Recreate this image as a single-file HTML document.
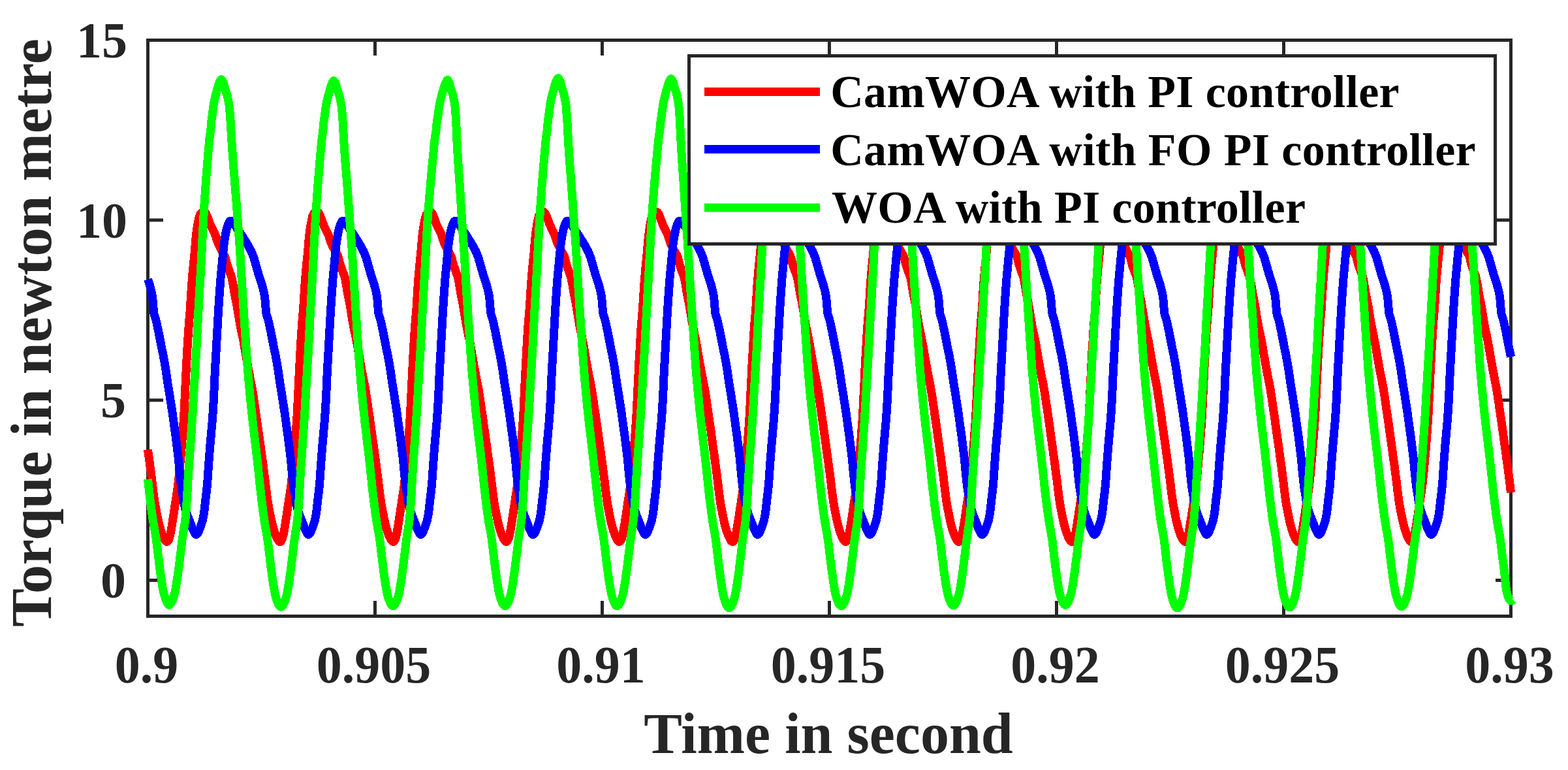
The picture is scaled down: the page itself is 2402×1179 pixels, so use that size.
<!DOCTYPE html>
<html><head><meta charset="utf-8"><title>Torque plot</title>
<style>html,body{margin:0;padding:0;background:#fff;overflow:hidden}svg{display:block}</style>
</head><body>
<svg width="2402" height="1179" viewBox="0 0 2402 1179">
<rect width="2402" height="1179" fill="#fff"/>
<rect x="226.5" y="61.5" width="2088.0" height="882.0" fill="none" stroke="#262626" stroke-width="5"/>
<path d="M226.5 59V85M226.5 946V920M574.5 59V85M574.5 946V920M922.5 59V85M922.5 946V920M1270.5 59V85M1270.5 946V920M1618.5 59V85M1618.5 946V920M1966.5 59V85M1966.5 946V920M2314.5 59V85M2314.5 946V920M224 888.4H250M2317 888.4H2291M224 612.8H250M2317 612.8H2291M224 337.1H250M2317 337.1H2291M224 61.5H250M2317 61.5H2291" stroke="#262626" stroke-width="5" fill="none"/>
<g><path d="M226.5,688.5L227.2,693.6 228.0,699.5 228.8,705.2 229.6,711.0 230.4,717.1 231.2,723.3 232.0,729.5 232.8,735.5 233.5,741.0 234.1,746.5 234.7,751.8 235.4,757.0 236.0,761.4 236.6,765.8 237.2,770.0 237.9,774.0 238.5,777.4 239.1,780.6 239.7,783.8 240.4,787.0 241.0,790.1 241.6,793.2 242.3,796.3 243.0,799.4 243.8,802.6 244.6,805.8 245.5,809.0 246.4,812.0 247.3,814.7 248.2,817.3 249.2,819.8 250.2,822.0 250.9,823.6 251.6,825.1 252.4,826.4 253.2,827.5 253.8,828.2 254.5,828.9 255.2,829.4 255.9,829.5 256.6,829.2 257.2,828.5 257.8,827.5 258.4,826.5 259.1,824.8 259.8,822.7 260.3,820.4 260.9,818.0 261.6,814.8 262.2,811.3 262.8,807.7 263.4,804.0 264.0,800.1 264.6,796.2 265.2,792.2 265.9,788.0 266.6,783.2 267.4,778.2 268.1,773.2 268.9,768.0 269.8,762.4 270.7,756.8 271.6,751.0 272.4,745.0 273.2,738.0 274.0,730.8 274.7,723.5 275.4,716.0 276.1,708.1 276.9,700.1 277.6,691.9 278.3,683.3 279.1,672.7 280.0,661.7 280.8,650.4 281.6,639.2 282.2,628.2 282.7,617.2 283.3,606.1 283.8,595.1 284.3,584.2 284.8,573.3 285.4,562.3 286.0,551.0 286.7,537.8 287.5,523.9 288.4,510.4 289.2,498.4 289.7,491.3 290.3,484.9 290.9,478.7 291.4,472.0 291.9,463.4 292.5,454.4 293.0,445.3 293.6,436.7 294.1,429.7 294.6,423.1 295.2,416.6 295.8,410.2 296.3,404.6 296.9,399.2 297.4,393.8 298.0,388.2 298.6,381.2 299.2,373.8 299.8,366.6 300.5,360.0 301.0,355.6 301.6,351.5 302.2,347.7 302.8,344.2 303.2,341.9 303.6,339.8 304.0,337.9 304.4,336.0 304.7,334.4 305.0,333.0 305.4,331.5 305.9,330.2 306.4,329.0 307.0,327.9 307.7,326.9 308.4,326.0 309.1,325.3 309.8,324.7 310.6,324.2 311.4,324.0 312.1,324.1 312.9,324.4 313.7,324.9 314.4,325.5 315.1,326.4 315.8,327.6 316.4,328.9 317.0,330.2 317.7,331.9 318.5,333.8 319.2,335.6 319.9,337.5 320.5,339.2 321.1,340.9 321.7,342.6 322.4,344.3 323.1,345.8 323.8,347.3 324.6,348.9 325.4,350.5 326.5,352.7 327.6,355.0 328.8,357.5 329.9,360.0 330.9,362.9 331.8,365.9 332.8,369.0 333.9,372.0 335.3,375.1 336.8,378.2 338.4,381.2 339.9,384.0 341.1,386.1 342.2,388.0 343.4,389.9 344.4,392.0 345.4,395.0 346.2,398.4 347.0,401.8 347.9,405.0 348.7,407.6 349.6,410.1 350.5,412.5 351.4,415.0 352.3,417.5 353.2,419.9 354.1,422.4 354.9,425.0 355.6,428.1 356.2,431.4 356.8,434.7 357.4,438.0 357.9,441.0 358.4,443.9 358.8,446.9 359.4,450.0 360.1,453.6 360.8,457.2 361.6,461.0 362.5,465.3 363.8,472.8 365.1,481.4 366.6,490.2 368.0,498.4 369.2,504.6 370.5,510.5 371.7,516.2 372.9,522.0 373.9,527.7 374.9,533.5 375.9,539.2 376.9,545.0 378.0,551.2 379.1,557.4 380.2,563.7 381.4,570.0 382.6,576.1 383.8,582.1 385.0,588.3 386.3,595.1 387.9,605.2 389.6,616.3 391.2,627.8 392.9,639.2 394.6,651.4 396.4,664.0 398.1,676.2 399.6,687.0 400.5,693.6 401.3,699.5 402.1,705.2 402.9,711.0 403.7,717.1 404.5,723.3 405.3,729.5 406.1,735.5 406.8,741.0 407.4,746.5 408.0,751.8 408.7,757.0 409.3,761.4 409.9,765.8 410.5,770.0 411.2,774.0 411.8,777.4 412.4,780.6 413.0,783.8 413.7,787.0 414.3,790.1 414.9,793.2 415.6,796.3 416.3,799.4 417.1,802.6 417.9,805.8 418.8,809.0 419.7,812.0 420.6,814.7 421.5,817.3 422.5,819.8 423.5,822.0 424.2,823.6 424.9,825.1 425.7,826.4 426.5,827.5 427.1,828.2 427.8,828.9 428.5,829.4 429.2,829.5 429.8,829.2 430.5,828.5 431.1,827.5 431.7,826.5 432.4,824.8 433.0,822.7 433.6,820.4 434.2,818.0 434.9,814.8 435.5,811.3 436.1,807.7 436.7,804.0 437.3,800.1 437.9,796.2 438.5,792.2 439.2,788.0 439.9,783.2 440.6,778.2 441.4,773.2 442.2,768.0 443.0,762.4 444.0,756.8 444.8,751.0 445.7,745.0 446.5,738.0 447.2,730.8 448.0,723.5 448.7,716.0 449.4,708.1 450.1,700.1 450.9,691.9 451.6,683.3 452.4,672.7 453.3,661.7 454.1,650.4 454.9,639.2 455.5,628.2 456.0,617.2 456.5,606.1 457.1,595.1 457.6,584.2 458.1,573.3 458.7,562.3 459.3,551.0 460.0,537.8 460.8,523.9 461.7,510.4 462.5,498.4 463.0,491.3 463.6,484.9 464.1,478.7 464.7,472.0 465.2,463.4 465.8,454.4 466.3,445.3 466.9,436.7 467.4,429.7 467.9,423.1 468.5,416.6 469.1,410.2 469.6,404.6 470.2,399.2 470.7,393.8 471.3,388.2 471.9,381.2 472.5,373.8 473.1,366.6 473.8,360.0 474.3,355.6 474.9,351.5 475.5,347.7 476.1,344.2 476.5,341.9 476.9,339.8 477.3,337.9 477.7,336.0 478.0,334.4 478.3,333.0 478.7,331.5 479.2,330.2 479.7,329.0 480.3,327.9 480.9,326.9 481.7,326.0 482.4,325.3 483.1,324.7 483.9,324.2 484.7,324.0 485.4,324.1 486.2,324.4 487.0,324.9 487.7,325.5 488.4,326.4 489.1,327.6 489.7,328.9 490.3,330.2 491.0,331.9 491.8,333.8 492.5,335.6 493.2,337.5 493.8,339.2 494.4,340.9 495.0,342.6 495.7,344.3 496.4,345.8 497.1,347.3 497.9,348.9 498.7,350.5 499.8,352.7 500.9,355.0 502.1,357.5 503.2,360.0 504.2,362.9 505.1,365.9 506.1,369.0 507.2,372.0 508.6,375.1 510.1,378.2 511.7,381.2 513.2,384.0 514.4,386.1 515.5,388.0 516.7,389.9 517.7,392.0 518.7,395.0 519.5,398.4 520.3,401.8 521.2,405.0 522.0,407.6 522.9,410.1 523.8,412.5 524.7,415.0 525.6,417.5 526.5,419.9 527.4,422.4 528.2,425.0 528.9,428.1 529.5,431.4 530.1,434.7 530.7,438.0 531.2,441.0 531.7,443.9 532.1,446.9 532.7,450.0 533.4,453.6 534.1,457.2 534.9,461.0 535.8,465.3 537.1,472.8 538.4,481.4 539.8,490.2 541.3,498.4 542.5,504.6 543.8,510.5 545.0,516.2 546.2,522.0 547.2,527.7 548.2,533.5 549.2,539.2 550.2,545.0 551.3,551.2 552.4,557.4 553.5,563.7 554.7,570.0 555.9,576.1 557.1,582.1 558.3,588.3 559.6,595.1 561.2,605.2 562.9,616.3 564.5,627.8 566.2,639.2 567.9,651.4 569.7,664.0 571.4,676.2 572.9,687.0 573.8,693.6 574.6,699.5 575.4,705.2 576.2,711.0 577.0,717.1 577.8,723.3 578.6,729.5 579.4,735.5 580.0,741.0 580.7,746.5 581.3,751.8 582.0,757.0 582.6,761.4 583.2,765.8 583.8,770.0 584.5,774.0 585.1,777.4 585.7,780.6 586.3,783.8 587.0,787.0 587.6,790.1 588.2,793.2 588.9,796.3 589.6,799.4 590.3,802.6 591.2,805.8 592.0,809.0 593.0,812.0 593.9,814.7 594.8,817.3 595.8,819.8 596.8,822.0 597.5,823.6 598.2,825.1 599.0,826.4 599.8,827.5 600.4,828.2 601.1,828.9 601.8,829.4 602.5,829.5 603.1,829.2 603.8,828.5 604.4,827.5 605.0,826.5 605.7,824.8 606.3,822.7 606.9,820.4 607.5,818.0 608.1,814.8 608.8,811.3 609.4,807.7 610.0,804.0 610.6,800.1 611.2,796.2 611.8,792.2 612.5,788.0 613.2,783.2 613.9,778.2 614.7,773.2 615.5,768.0 616.3,762.4 617.2,756.8 618.1,751.0 619.0,745.0 619.8,738.0 620.5,730.8 621.3,723.5 622.0,716.0 622.7,708.1 623.4,700.1 624.1,691.9 624.9,683.3 625.7,672.7 626.6,661.7 627.4,650.4 628.2,639.2 628.8,628.2 629.3,617.2 629.8,606.1 630.4,595.1 630.9,584.2 631.4,573.3 632.0,562.3 632.6,551.0 633.3,537.8 634.1,523.9 634.9,510.4 635.8,498.4 636.3,491.3 636.9,484.9 637.4,478.7 638.0,472.0 638.5,463.4 639.1,454.4 639.6,445.3 640.2,436.7 640.7,429.7 641.2,423.1 641.8,416.6 642.4,410.2 642.9,404.6 643.4,399.2 644.0,393.8 644.6,388.2 645.2,381.2 645.8,373.8 646.4,366.6 647.1,360.0 647.6,355.6 648.2,351.5 648.8,347.7 649.4,344.2 649.8,341.9 650.2,339.8 650.5,337.9 651.0,336.0 651.3,334.4 651.6,333.0 652.0,331.5 652.5,330.2 653.0,329.0 653.6,327.9 654.2,326.9 655.0,326.0 655.7,325.3 656.4,324.7 657.2,324.2 658.0,324.0 658.7,324.1 659.5,324.4 660.3,324.9 661.0,325.5 661.7,326.4 662.4,327.6 663.0,328.9 663.6,330.2 664.3,331.9 665.0,333.8 665.8,335.6 666.5,337.5 667.1,339.2 667.7,340.9 668.3,342.6 669.0,344.3 669.7,345.8 670.4,347.3 671.2,348.9 672.0,350.5 673.0,352.7 674.2,355.0 675.4,357.5 676.5,360.0 677.5,362.9 678.4,365.9 679.4,369.0 680.5,372.0 681.8,375.1 683.4,378.2 685.0,381.2 686.5,384.0 687.6,386.1 688.8,388.0 689.9,389.9 691.0,392.0 692.0,395.0 692.8,398.4 693.6,401.8 694.5,405.0 695.3,407.6 696.2,410.1 697.1,412.5 698.0,415.0 698.9,417.5 699.8,419.9 700.7,422.4 701.5,425.0 702.2,428.1 702.8,431.4 703.4,434.7 704.0,438.0 704.5,441.0 704.9,443.9 705.4,446.9 706.0,450.0 706.7,453.6 707.4,457.2 708.2,461.0 709.1,465.3 710.3,472.8 711.7,481.4 713.1,490.2 714.6,498.4 715.8,504.6 717.0,510.5 718.3,516.2 719.5,522.0 720.5,527.7 721.5,533.5 722.5,539.2 723.5,545.0 724.6,551.2 725.7,557.4 726.8,563.7 728.0,570.0 729.2,576.1 730.4,582.1 731.6,588.3 732.9,595.1 734.5,605.2 736.2,616.3 737.8,627.8 739.5,639.2 741.2,651.4 743.0,664.0 744.7,676.2 746.2,687.0 747.1,693.6 747.9,699.5 748.7,705.2 749.5,711.0 750.3,717.1 751.1,723.3 751.9,729.5 752.7,735.5 753.3,741.0 754.0,746.5 754.6,751.8 755.3,757.0 755.9,761.4 756.5,765.8 757.1,770.0 757.8,774.0 758.4,777.4 759.0,780.6 759.6,783.8 760.3,787.0 760.9,790.1 761.5,793.2 762.2,796.3 762.9,799.4 763.6,802.6 764.5,805.8 765.3,809.0 766.3,812.0 767.2,814.7 768.1,817.3 769.1,819.8 770.1,822.0 770.8,823.6 771.5,825.1 772.3,826.4 773.1,827.5 773.7,828.2 774.4,828.9 775.1,829.4 775.8,829.5 776.4,829.2 777.1,828.5 777.7,827.5 778.2,826.5 779.0,824.8 779.6,822.7 780.2,820.4 780.8,818.0 781.4,814.8 782.1,811.3 782.7,807.7 783.2,804.0 783.9,800.1 784.5,796.2 785.1,792.2 785.8,788.0 786.5,783.2 787.2,778.2 788.0,773.2 788.8,768.0 789.6,762.4 790.5,756.8 791.4,751.0 792.2,745.0 793.1,738.0 793.8,730.8 794.5,723.5 795.2,716.0 796.0,708.1 796.7,700.1 797.4,691.9 798.2,683.3 799.0,672.7 799.9,661.7 800.7,650.4 801.5,639.2 802.1,628.2 802.6,617.2 803.1,606.1 803.6,595.1 804.2,584.2 804.7,573.3 805.3,562.3 805.9,551.0 806.6,537.8 807.4,523.9 808.2,510.4 809.0,498.4 809.6,491.3 810.2,484.9 810.7,478.7 811.2,472.0 811.8,463.4 812.4,454.4 812.9,445.3 813.5,436.7 814.0,429.7 814.5,423.1 815.1,416.6 815.7,410.2 816.2,404.6 816.7,399.2 817.3,393.8 817.9,388.2 818.5,381.2 819.1,373.8 819.7,366.6 820.4,360.0 820.9,355.6 821.5,351.5 822.1,347.7 822.7,344.2 823.0,341.9 823.4,339.8 823.8,337.9 824.2,336.0 824.6,334.4 824.9,333.0 825.3,331.5 825.8,330.2 826.3,329.0 826.9,327.9 827.5,326.9 828.2,326.0 828.9,325.3 829.7,324.7 830.5,324.2 831.2,324.0 832.0,324.1 832.8,324.4 833.6,324.9 834.2,325.5 835.0,326.4 835.6,327.6 836.2,328.9 836.9,330.2 837.6,331.9 838.3,333.8 839.1,335.6 839.8,337.5 840.4,339.2 841.0,340.9 841.6,342.6 842.2,344.3 842.9,345.8 843.7,347.3 844.4,348.9 845.2,350.5 846.3,352.7 847.5,355.0 848.7,357.5 849.8,360.0 850.8,362.9 851.7,365.9 852.6,369.0 853.8,372.0 855.1,375.1 856.7,378.2 858.2,381.2 859.8,384.0 860.9,386.1 862.1,388.0 863.2,389.9 864.2,392.0 865.3,395.0 866.1,398.4 866.9,401.8 867.8,405.0 868.6,407.6 869.5,410.1 870.4,412.5 871.2,415.0 872.2,417.5 873.1,419.9 874.0,422.4 874.8,425.0 875.5,428.1 876.1,431.4 876.7,434.7 877.2,438.0 877.8,441.0 878.2,443.9 878.7,446.9 879.2,450.0 880.0,453.6 880.7,457.2 881.5,461.0 882.4,465.3 883.6,472.8 885.0,481.4 886.4,490.2 887.9,498.4 889.1,504.6 890.3,510.5 891.6,516.2 892.8,522.0 893.8,527.7 894.8,533.5 895.7,539.2 896.8,545.0 897.8,551.2 899.0,557.4 900.1,563.7 901.2,570.0 902.4,576.1 903.7,582.1 904.9,588.3 906.1,595.1 907.8,605.2 909.5,616.3 911.1,627.8 912.8,639.2 914.5,651.4 916.3,664.0 917.9,676.2 919.5,687.0 920.4,693.6 921.2,699.5 922.0,705.2 922.8,711.0 923.6,717.1 924.4,723.3 925.2,729.5 926.0,735.5 926.6,741.0 927.3,746.5 927.9,751.8 928.5,757.0 929.2,761.4 929.8,765.8 930.4,770.0 931.0,774.0 931.7,777.4 932.3,780.6 932.9,783.8 933.5,787.0 934.2,790.1 934.8,793.2 935.4,796.3 936.1,799.4 936.9,802.6 937.7,805.8 938.6,809.0 939.5,812.0 940.4,814.7 941.4,817.3 942.4,819.8 943.3,822.0 944.1,823.6 944.8,825.1 945.5,826.4 946.4,827.5 947.0,828.2 947.7,828.9 948.4,829.4 949.0,829.5 949.7,829.2 950.4,828.5 951.0,827.5 951.5,826.5 952.3,824.8 952.9,822.7 953.5,820.4 954.0,818.0 954.7,814.8 955.3,811.3 955.9,807.7 956.5,804.0 957.2,800.1 957.8,796.2 958.4,792.2 959.0,788.0 959.8,783.2 960.5,778.2 961.3,773.2 962.0,768.0 962.9,762.4 963.8,756.8 964.7,751.0 965.5,745.0 966.4,738.0 967.1,730.8 967.8,723.5 968.5,716.0 969.3,708.1 970.0,700.1 970.7,691.9 971.4,683.3 972.3,672.7 973.2,661.7 974.0,650.4 974.7,639.2 975.4,628.2 975.9,617.2 976.4,606.1 976.9,595.1 977.5,584.2 978.0,573.3 978.5,562.3 979.1,551.0 979.9,537.8 980.7,523.9 981.5,510.4 982.3,498.4 982.9,491.3 983.5,484.9 984.0,478.7 984.5,472.0 985.1,463.4 985.6,454.4 986.2,445.3 986.7,436.7 987.3,429.7 987.8,423.1 988.4,416.6 988.9,410.2 989.5,404.6 990.0,399.2 990.6,393.8 991.1,388.2 991.7,381.2 992.3,373.8 993.0,366.6 993.6,360.0 994.2,355.6 994.8,351.5 995.4,347.7 995.9,344.2 996.3,341.9 996.7,339.8 997.1,337.9 997.5,336.0 997.9,334.4 998.2,333.0 998.6,331.5 999.0,330.2 999.6,329.0 1000.2,327.9 1000.8,326.9 1001.5,326.0 1002.2,325.3 1003.0,324.7 1003.8,324.2 1004.5,324.0 1005.3,324.1 1006.1,324.4 1006.8,324.9 1007.5,325.5 1008.3,326.4 1008.9,327.6 1009.5,328.9 1010.1,330.2 1010.9,331.9 1011.6,333.8 1012.3,335.6 1013.0,337.5 1013.7,339.2 1014.3,340.9 1014.9,342.6 1015.5,344.3 1016.2,345.8 1017.0,347.3 1017.7,348.9 1018.5,350.5 1019.6,352.7 1020.8,355.0 1022.0,357.5 1023.0,360.0 1024.1,362.9 1025.0,365.9 1025.9,369.0 1027.0,372.0 1028.4,375.1 1030.0,378.2 1031.5,381.2 1033.0,384.0 1034.2,386.1 1035.4,388.0 1036.5,389.9 1037.5,392.0 1038.6,395.0 1039.4,398.4 1040.2,401.8 1041.0,405.0 1041.9,407.6 1042.8,410.1 1043.7,412.5 1044.5,415.0 1045.4,417.5 1046.4,419.9 1047.2,422.4 1048.0,425.0 1048.8,428.1 1049.4,431.4 1050.0,434.7 1050.5,438.0 1051.1,441.0 1051.5,443.9 1052.0,446.9 1052.5,450.0 1053.2,453.6 1054.0,457.2 1054.8,461.0 1055.6,465.3 1056.9,472.8 1058.3,481.4 1059.7,490.2 1061.1,498.4 1062.4,504.6 1063.6,510.5 1064.9,516.2 1066.0,522.0 1067.1,527.7 1068.1,533.5 1069.0,539.2 1070.0,545.0 1071.1,551.2 1072.2,557.4 1073.4,563.7 1074.5,570.0 1075.7,576.1 1077.0,582.1 1078.2,588.3 1079.4,595.1 1081.1,605.2 1082.7,616.3 1084.4,627.8 1086.0,639.2 1087.8,651.4 1089.6,664.0 1091.2,676.2 1092.7,687.0 1093.7,693.6 1094.5,699.5 1095.3,705.2 1096.0,711.0 1096.9,717.1 1097.7,723.3 1098.5,729.5 1099.2,735.5 1099.9,741.0 1100.6,746.5 1101.2,751.8 1101.8,757.0 1102.4,761.4 1103.1,765.8 1103.7,770.0 1104.3,774.0 1104.9,777.4 1105.6,780.6 1106.2,783.8 1106.8,787.0 1107.5,790.1 1108.1,793.2 1108.7,796.3 1109.4,799.4 1110.2,802.6 1111.0,805.8 1111.9,809.0 1112.8,812.0 1113.7,814.7 1114.7,817.3 1115.7,819.8 1116.6,822.0 1117.4,823.6 1118.1,825.1 1118.8,826.4 1119.6,827.5 1120.3,828.2 1121.0,828.9 1121.7,829.4 1122.3,829.5 1123.0,829.2 1123.6,828.5 1124.3,827.5 1124.8,826.5 1125.6,824.8 1126.2,822.7 1126.8,820.4 1127.3,818.0 1128.0,814.8 1128.6,811.3 1129.2,807.7 1129.8,804.0 1130.5,800.1 1131.1,796.2 1131.7,792.2 1132.3,788.0 1133.1,783.2 1133.8,778.2 1134.6,773.2 1135.3,768.0 1136.2,762.4 1137.1,756.8 1138.0,751.0 1138.8,745.0 1139.7,738.0 1140.4,730.8 1141.1,723.5 1141.8,716.0 1142.6,708.1 1143.3,700.1 1144.0,691.9 1144.7,683.3 1145.6,672.7 1146.5,661.7 1147.3,650.4 1148.0,639.2 1148.7,628.2 1149.2,617.2 1149.7,606.1 1150.2,595.1 1150.8,584.2 1151.3,573.3 1151.8,562.3 1152.4,551.0 1153.2,537.8 1154.0,523.9 1154.8,510.4 1155.6,498.4 1156.2,491.3 1156.8,484.9 1157.3,478.7 1157.8,472.0 1158.4,463.4 1158.9,454.4 1159.5,445.3 1160.0,436.7 1160.6,429.7 1161.1,423.1 1161.7,416.6 1162.2,410.2 1162.8,404.6 1163.3,399.2 1163.9,393.8 1164.4,388.2 1165.0,381.2 1165.6,373.8 1166.3,366.6 1166.9,360.0 1167.5,355.6 1168.1,351.5 1168.7,347.7 1169.2,344.2 1169.6,341.9 1170.0,339.8 1170.4,337.9 1170.8,336.0 1171.2,334.4 1171.5,333.0 1171.9,331.5 1172.3,330.2 1172.9,329.0 1173.4,327.9 1174.1,326.9 1174.8,326.0 1175.5,325.3 1176.3,324.7 1177.1,324.2 1177.8,324.0 1178.6,324.1 1179.4,324.4 1180.1,324.9 1180.8,325.5 1181.6,326.4 1182.2,327.6 1182.8,328.9 1183.4,330.2 1184.2,331.9 1184.9,333.8 1185.6,335.6 1186.3,337.5 1187.0,339.2 1187.6,340.9 1188.2,342.6 1188.8,344.3 1189.5,345.8 1190.3,347.3 1191.0,348.9 1191.8,350.5 1192.9,352.7 1194.1,355.0 1195.2,357.5 1196.3,360.0 1197.4,362.9 1198.3,365.9 1199.2,369.0 1200.3,372.0 1201.7,375.1 1203.2,378.2 1204.8,381.2 1206.3,384.0 1207.5,386.1 1208.7,388.0 1209.8,389.9 1210.8,392.0 1211.8,395.0 1212.7,398.4 1213.5,401.8 1214.3,405.0 1215.2,407.6 1216.1,410.1 1216.9,412.5 1217.8,415.0 1218.7,417.5 1219.7,419.9 1220.5,422.4 1221.3,425.0 1222.1,428.1 1222.7,431.4 1223.3,434.7 1223.8,438.0 1224.3,441.0 1224.8,443.9 1225.3,446.9 1225.8,450.0 1226.5,453.6 1227.3,457.2 1228.1,461.0 1228.9,465.3 1230.2,472.8 1231.6,481.4 1233.0,490.2 1234.4,498.4 1235.7,504.6 1236.9,510.5 1238.2,516.2 1239.3,522.0 1240.4,527.7 1241.4,533.5 1242.3,539.2 1243.3,545.0 1244.4,551.2 1245.5,557.4 1246.7,563.7 1247.8,570.0 1249.0,576.1 1250.3,582.1 1251.5,588.3 1252.7,595.1 1254.4,605.2 1256.0,616.3 1257.7,627.8 1259.3,639.2 1261.1,651.4 1262.8,664.0 1264.5,676.2 1266.0,687.0 1266.9,693.6 1267.8,699.5 1268.5,705.2 1269.3,711.0 1270.1,717.1 1271.0,723.3 1271.8,729.5 1272.5,735.5 1273.2,741.0 1273.8,746.5 1274.5,751.8 1275.1,757.0 1275.7,761.4 1276.3,765.8 1277.0,770.0 1277.6,774.0 1278.2,777.4 1278.9,780.6 1279.5,783.8 1280.1,787.0 1280.8,790.1 1281.4,793.2 1282.0,796.3 1282.7,799.4 1283.5,802.6 1284.3,805.8 1285.2,809.0 1286.1,812.0 1287.0,814.7 1288.0,817.3 1289.0,819.8 1289.9,822.0 1290.7,823.6 1291.4,825.1 1292.1,826.4 1292.9,827.5 1293.6,828.2 1294.3,828.9 1295.0,829.4 1295.6,829.5 1296.3,829.2 1296.9,828.5 1297.6,827.5 1298.1,826.5 1298.9,824.8 1299.5,822.7 1300.1,820.4 1300.6,818.0 1301.3,814.8 1301.9,811.3 1302.5,807.7 1303.1,804.0 1303.8,800.1 1304.4,796.2 1305.0,792.2 1305.6,788.0 1306.3,783.2 1307.1,778.2 1307.8,773.2 1308.6,768.0 1309.5,762.4 1310.4,756.8 1311.3,751.0 1312.1,745.0 1312.9,738.0 1313.7,730.8 1314.4,723.5 1315.1,716.0 1315.9,708.1 1316.6,700.1 1317.3,691.9 1318.0,683.3 1318.9,672.7 1319.7,661.7 1320.6,650.4 1321.3,639.2 1321.9,628.2 1322.5,617.2 1323.0,606.1 1323.5,595.1 1324.1,584.2 1324.6,573.3 1325.1,562.3 1325.7,551.0 1326.5,537.8 1327.3,523.9 1328.1,510.4 1328.9,498.4 1329.5,491.3 1330.0,484.9 1330.6,478.7 1331.1,472.0 1331.7,463.4 1332.2,454.4 1332.8,445.3 1333.3,436.7 1333.8,429.7 1334.4,423.1 1334.9,416.6 1335.5,410.2 1336.1,404.6 1336.6,399.2 1337.2,393.8 1337.7,388.2 1338.3,381.2 1338.9,373.8 1339.5,366.6 1340.2,360.0 1340.8,355.6 1341.4,351.5 1341.9,347.7 1342.5,344.2 1342.9,341.9 1343.3,339.8 1343.7,337.9 1344.1,336.0 1344.5,334.4 1344.8,333.0 1345.1,331.5 1345.6,330.2 1346.1,329.0 1346.7,327.9 1347.4,326.9 1348.1,326.0 1348.8,325.3 1349.6,324.7 1350.3,324.2 1351.1,324.0 1351.9,324.1 1352.7,324.4 1353.4,324.9 1354.1,325.5 1354.9,326.4 1355.5,327.6 1356.1,328.9 1356.7,330.2 1357.5,331.9 1358.2,333.8 1358.9,335.6 1359.6,337.5 1360.3,339.2 1360.9,340.9 1361.5,342.6 1362.1,344.3 1362.8,345.8 1363.5,347.3 1364.3,348.9 1365.1,350.5 1366.2,352.7 1367.4,355.0 1368.5,357.5 1369.6,360.0 1370.6,362.9 1371.6,365.9 1372.5,369.0 1373.6,372.0 1375.0,375.1 1376.5,378.2 1378.1,381.2 1379.6,384.0 1380.8,386.1 1382.0,388.0 1383.1,389.9 1384.1,392.0 1385.1,395.0 1386.0,398.4 1386.8,401.8 1387.6,405.0 1388.5,407.6 1389.3,410.1 1390.2,412.5 1391.1,415.0 1392.0,417.5 1392.9,419.9 1393.8,422.4 1394.6,425.0 1395.4,428.1 1396.0,431.4 1396.6,434.7 1397.1,438.0 1397.6,441.0 1398.1,443.9 1398.6,446.9 1399.1,450.0 1399.8,453.6 1400.6,457.2 1401.4,461.0 1402.2,465.3 1403.5,472.8 1404.9,481.4 1406.3,490.2 1407.7,498.4 1408.9,504.6 1410.2,510.5 1411.4,516.2 1412.6,522.0 1413.7,527.7 1414.7,533.5 1415.6,539.2 1416.6,545.0 1417.7,551.2 1418.8,557.4 1420.0,563.7 1421.1,570.0 1422.3,576.1 1423.5,582.1 1424.8,588.3 1426.0,595.1 1427.7,605.2 1429.3,616.3 1431.0,627.8 1432.6,639.2 1434.4,651.4 1436.1,664.0 1437.8,676.2 1439.3,687.0 1440.2,693.6 1441.1,699.5 1441.8,705.2 1442.6,711.0 1443.4,717.1 1444.3,723.3 1445.1,729.5 1445.8,735.5 1446.5,741.0 1447.1,746.5 1447.8,751.8 1448.4,757.0 1449.0,761.4 1449.6,765.8 1450.3,770.0 1450.9,774.0 1451.5,777.4 1452.1,780.6 1452.8,783.8 1453.4,787.0 1454.0,790.1 1454.7,793.2 1455.3,796.3 1456.0,799.4 1456.8,802.6 1457.6,805.8 1458.5,809.0 1459.4,812.0 1460.3,814.7 1461.3,817.3 1462.2,819.8 1463.2,822.0 1463.9,823.6 1464.7,825.1 1465.4,826.4 1466.2,827.5 1466.9,828.2 1467.6,828.9 1468.3,829.4 1468.9,829.5 1469.6,829.2 1470.2,828.5 1470.8,827.5 1471.4,826.5 1472.2,824.8 1472.8,822.7 1473.4,820.4 1473.9,818.0 1474.6,814.8 1475.2,811.3 1475.8,807.7 1476.4,804.0 1477.0,800.1 1477.7,796.2 1478.3,792.2 1478.9,788.0 1479.6,783.2 1480.4,778.2 1481.1,773.2 1481.9,768.0 1482.8,762.4 1483.7,756.8 1484.6,751.0 1485.4,745.0 1486.2,738.0 1487.0,730.8 1487.7,723.5 1488.4,716.0 1489.2,708.1 1489.9,700.1 1490.6,691.9 1491.3,683.3 1492.2,672.7 1493.0,661.7 1493.9,650.4 1494.6,639.2 1495.2,628.2 1495.8,617.2 1496.3,606.1 1496.8,595.1 1497.3,584.2 1497.9,573.3 1498.4,562.3 1499.0,551.0 1499.8,537.8 1500.6,523.9 1501.4,510.4 1502.2,498.4 1502.8,491.3 1503.3,484.9 1503.9,478.7 1504.4,472.0 1505.0,463.4 1505.5,454.4 1506.0,445.3 1506.6,436.7 1507.1,429.7 1507.7,423.1 1508.2,416.6 1508.8,410.2 1509.3,404.6 1509.9,399.2 1510.5,393.8 1511.0,388.2 1511.6,381.2 1512.2,373.8 1512.8,366.6 1513.5,360.0 1514.1,355.6 1514.6,351.5 1515.2,347.7 1515.8,344.2 1516.2,341.9 1516.6,339.8 1517.0,337.9 1517.4,336.0 1517.7,334.4 1518.1,333.0 1518.4,331.5 1518.9,330.2 1519.4,329.0 1520.0,327.9 1520.7,326.9 1521.4,326.0 1522.1,325.3 1522.9,324.7 1523.6,324.2 1524.4,324.0 1525.2,324.1 1526.0,324.4 1526.7,324.9 1527.4,325.5 1528.2,326.4 1528.8,327.6 1529.4,328.9 1530.0,330.2 1530.8,331.9 1531.5,333.8 1532.2,335.6 1532.9,337.5 1533.5,339.2 1534.1,340.9 1534.8,342.6 1535.4,344.3 1536.1,345.8 1536.8,347.3 1537.6,348.9 1538.4,350.5 1539.5,352.7 1540.7,355.0 1541.8,357.5 1542.9,360.0 1543.9,362.9 1544.9,365.9 1545.8,369.0 1546.9,372.0 1548.3,375.1 1549.8,378.2 1551.4,381.2 1552.9,384.0 1554.1,386.1 1555.3,388.0 1556.4,389.9 1557.4,392.0 1558.4,395.0 1559.3,398.4 1560.1,401.8 1560.9,405.0 1561.8,407.6 1562.6,410.1 1563.5,412.5 1564.4,415.0 1565.3,417.5 1566.2,419.9 1567.1,422.4 1567.9,425.0 1568.6,428.1 1569.3,431.4 1569.8,434.7 1570.4,438.0 1570.9,441.0 1571.4,443.9 1571.9,446.9 1572.4,450.0 1573.1,453.6 1573.9,457.2 1574.7,461.0 1575.5,465.3 1576.8,472.8 1578.2,481.4 1579.6,490.2 1581.0,498.4 1582.2,504.6 1583.5,510.5 1584.7,516.2 1585.9,522.0 1587.0,527.7 1587.9,533.5 1588.9,539.2 1589.9,545.0 1591.0,551.2 1592.1,557.4 1593.3,563.7 1594.4,570.0 1595.6,576.1 1596.8,582.1 1598.1,588.3 1599.3,595.1 1601.0,605.2 1602.6,616.3 1604.3,627.8 1605.9,639.2 1607.7,651.4 1609.4,664.0 1611.1,676.2 1612.6,687.0 1613.5,693.6 1614.3,699.5 1615.1,705.2 1615.9,711.0 1616.7,717.1 1617.5,723.3 1618.3,729.5 1619.1,735.5 1619.8,741.0 1620.4,746.5 1621.1,751.8 1621.7,757.0 1622.3,761.4 1622.9,765.8 1623.6,770.0 1624.2,774.0 1624.8,777.4 1625.4,780.6 1626.1,783.8 1626.7,787.0 1627.3,790.1 1628.0,793.2 1628.6,796.3 1629.3,799.4 1630.1,802.6 1630.9,805.8 1631.8,809.0 1632.7,812.0 1633.6,814.7 1634.6,817.3 1635.5,819.8 1636.5,822.0 1637.2,823.6 1638.0,825.1 1638.7,826.4 1639.5,827.5 1640.2,828.2 1640.9,828.9 1641.5,829.4 1642.2,829.5 1642.9,829.2 1643.5,828.5 1644.1,827.5 1644.7,826.5 1645.4,824.8 1646.1,822.7 1646.6,820.4 1647.2,818.0 1647.9,814.8 1648.5,811.3 1649.1,807.7 1649.7,804.0 1650.3,800.1 1650.9,796.2 1651.6,792.2 1652.2,788.0 1652.9,783.2 1653.7,778.2 1654.4,773.2 1655.2,768.0 1656.1,762.4 1657.0,756.8 1657.9,751.0 1658.7,745.0 1659.5,738.0 1660.3,730.8 1661.0,723.5 1661.7,716.0 1662.4,708.1 1663.2,700.1 1663.9,691.9 1664.6,683.3 1665.5,672.7 1666.3,661.7 1667.2,650.4 1667.9,639.2 1668.5,628.2 1669.1,617.2 1669.6,606.1 1670.1,595.1 1670.6,584.2 1671.2,573.3 1671.7,562.3 1672.3,551.0 1673.0,537.8 1673.9,523.9 1674.7,510.4 1675.5,498.4 1676.1,491.3 1676.6,484.9 1677.2,478.7 1677.7,472.0 1678.3,463.4 1678.8,454.4 1679.3,445.3 1679.9,436.7 1680.4,429.7 1681.0,423.1 1681.5,416.6 1682.1,410.2 1682.6,404.6 1683.2,399.2 1683.7,393.8 1684.3,388.2 1684.9,381.2 1685.5,373.8 1686.1,366.6 1686.8,360.0 1687.4,355.6 1687.9,351.5 1688.5,347.7 1689.1,344.2 1689.5,341.9 1689.9,339.8 1690.3,337.9 1690.7,336.0 1691.0,334.4 1691.4,333.0 1691.7,331.5 1692.2,330.2 1692.7,329.0 1693.3,327.9 1694.0,326.9 1694.7,326.0 1695.4,325.3 1696.1,324.7 1696.9,324.2 1697.7,324.0 1698.5,324.1 1699.2,324.4 1700.0,324.9 1700.7,325.5 1701.4,326.4 1702.1,327.6 1702.7,328.9 1703.3,330.2 1704.1,331.9 1704.8,333.8 1705.5,335.6 1706.2,337.5 1706.8,339.2 1707.4,340.9 1708.0,342.6 1708.7,344.3 1709.4,345.8 1710.1,347.3 1710.9,348.9 1711.7,350.5 1712.8,352.7 1713.9,355.0 1715.1,357.5 1716.2,360.0 1717.2,362.9 1718.1,365.9 1719.1,369.0 1720.2,372.0 1721.6,375.1 1723.1,378.2 1724.7,381.2 1726.2,384.0 1727.4,386.1 1728.6,388.0 1729.7,389.9 1730.7,392.0 1731.7,395.0 1732.6,398.4 1733.3,401.8 1734.2,405.0 1735.0,407.6 1735.9,410.1 1736.8,412.5 1737.7,415.0 1738.6,417.5 1739.5,419.9 1740.4,422.4 1741.2,425.0 1741.9,428.1 1742.6,431.4 1743.1,434.7 1743.7,438.0 1744.2,441.0 1744.7,443.9 1745.2,446.9 1745.7,450.0 1746.4,453.6 1747.2,457.2 1748.0,461.0 1748.8,465.3 1750.1,472.8 1751.5,481.4 1752.9,490.2 1754.3,498.4 1755.5,504.6 1756.8,510.5 1758.0,516.2 1759.2,522.0 1760.3,527.7 1761.2,533.5 1762.2,539.2 1763.2,545.0 1764.3,551.2 1765.4,557.4 1766.5,563.7 1767.7,570.0 1768.9,576.1 1770.1,582.1 1771.4,588.3 1772.6,595.1 1774.2,605.2 1775.9,616.3 1777.6,627.8 1779.2,639.2 1780.9,651.4 1782.7,664.0 1784.4,676.2 1785.9,687.0 1786.8,693.6 1787.6,699.5 1788.4,705.2 1789.2,711.0 1790.0,717.1 1790.8,723.3 1791.6,729.5 1792.4,735.5 1793.1,741.0 1793.7,746.5 1794.3,751.8 1795.0,757.0 1795.6,761.4 1796.2,765.8 1796.8,770.0 1797.5,774.0 1798.1,777.4 1798.7,780.6 1799.4,783.8 1800.0,787.0 1800.6,790.1 1801.2,793.2 1801.9,796.3 1802.6,799.4 1803.4,802.6 1804.2,805.8 1805.1,809.0 1806.0,812.0 1806.9,814.7 1807.8,817.3 1808.8,819.8 1809.8,822.0 1810.5,823.6 1811.2,825.1 1812.0,826.4 1812.8,827.5 1813.5,828.2 1814.1,828.9 1814.8,829.4 1815.5,829.5 1816.2,829.2 1816.8,828.5 1817.4,827.5 1818.0,826.5 1818.7,824.8 1819.4,822.7 1819.9,820.4 1820.5,818.0 1821.2,814.8 1821.8,811.3 1822.4,807.7 1823.0,804.0 1823.6,800.1 1824.2,796.2 1824.9,792.2 1825.5,788.0 1826.2,783.2 1827.0,778.2 1827.7,773.2 1828.5,768.0 1829.4,762.4 1830.3,756.8 1831.2,751.0 1832.0,745.0 1832.8,738.0 1833.6,730.8 1834.3,723.5 1835.0,716.0 1835.7,708.1 1836.5,700.1 1837.2,691.9 1837.9,683.3 1838.7,672.7 1839.6,661.7 1840.4,650.4 1841.2,639.2 1841.8,628.2 1842.4,617.2 1842.9,606.1 1843.4,595.1 1843.9,584.2 1844.4,573.3 1845.0,562.3 1845.6,551.0 1846.3,537.8 1847.1,523.9 1848.0,510.4 1848.8,498.4 1849.4,491.3 1849.9,484.9 1850.5,478.7 1851.0,472.0 1851.6,463.4 1852.1,454.4 1852.6,445.3 1853.2,436.7 1853.7,429.7 1854.3,423.1 1854.8,416.6 1855.4,410.2 1855.9,404.6 1856.5,399.2 1857.0,393.8 1857.6,388.2 1858.2,381.2 1858.8,373.8 1859.4,366.6 1860.1,360.0 1860.6,355.6 1861.2,351.5 1861.8,347.7 1862.4,344.2 1862.8,341.9 1863.2,339.8 1863.6,337.9 1864.0,336.0 1864.3,334.4 1864.6,333.0 1865.0,331.5 1865.5,330.2 1866.0,329.0 1866.6,327.9 1867.3,326.9 1868.0,326.0 1868.7,325.3 1869.4,324.7 1870.2,324.2 1871.0,324.0 1871.8,324.1 1872.5,324.4 1873.3,324.9 1874.0,325.5 1874.7,326.4 1875.4,327.6 1876.0,328.9 1876.6,330.2 1877.3,331.9 1878.1,333.8 1878.8,335.6 1879.5,337.5 1880.1,339.2 1880.7,340.9 1881.3,342.6 1882.0,344.3 1882.7,345.8 1883.4,347.3 1884.2,348.9 1885.0,350.5 1886.1,352.7 1887.2,355.0 1888.4,357.5 1889.5,360.0 1890.5,362.9 1891.4,365.9 1892.4,369.0 1893.5,372.0 1894.9,375.1 1896.4,378.2 1898.0,381.2 1899.5,384.0 1900.7,386.1 1901.9,388.0 1903.0,389.9 1904.0,392.0 1905.0,395.0 1905.8,398.4 1906.6,401.8 1907.5,405.0 1908.3,407.6 1909.2,410.1 1910.1,412.5 1911.0,415.0 1911.9,417.5 1912.8,419.9 1913.7,422.4 1914.5,425.0 1915.2,428.1 1915.9,431.4 1916.4,434.7 1917.0,438.0 1917.5,441.0 1918.0,443.9 1918.5,446.9 1919.0,450.0 1919.7,453.6 1920.5,457.2 1921.3,461.0 1922.1,465.3 1923.4,472.8 1924.7,481.4 1926.2,490.2 1927.6,498.4 1928.8,504.6 1930.1,510.5 1931.3,516.2 1932.5,522.0 1933.5,527.7 1934.5,533.5 1935.5,539.2 1936.5,545.0 1937.6,551.2 1938.7,557.4 1939.8,563.7 1941.0,570.0 1942.2,576.1 1943.4,582.1 1944.7,588.3 1945.9,595.1 1947.5,605.2 1949.2,616.3 1950.8,627.8 1952.5,639.2 1954.2,651.4 1956.0,664.0 1957.7,676.2 1959.2,687.0 1960.1,693.6 1960.9,699.5 1961.7,705.2 1962.5,711.0 1963.3,717.1 1964.1,723.3 1964.9,729.5 1965.7,735.5 1966.4,741.0 1967.0,746.5 1967.6,751.8 1968.3,757.0 1968.9,761.4 1969.5,765.8 1970.1,770.0 1970.8,774.0 1971.4,777.4 1972.0,780.6 1972.6,783.8 1973.3,787.0 1973.9,790.1 1974.5,793.2 1975.2,796.3 1975.9,799.4 1976.7,802.6 1977.5,805.8 1978.4,809.0 1979.3,812.0 1980.2,814.7 1981.1,817.3 1982.1,819.8 1983.1,822.0 1983.8,823.6 1984.5,825.1 1985.3,826.4 1986.1,827.5 1986.7,828.2 1987.4,828.9 1988.1,829.4 1988.8,829.5 1989.5,829.2 1990.1,828.5 1990.7,827.5 1991.3,826.5 1992.0,824.8 1992.7,822.7 1993.2,820.4 1993.8,818.0 1994.5,814.8 1995.1,811.3 1995.7,807.7 1996.3,804.0 1996.9,800.1 1997.5,796.2 1998.1,792.2 1998.8,788.0 1999.5,783.2 2000.3,778.2 2001.0,773.2 2001.8,768.0 2002.7,762.4 2003.6,756.8 2004.5,751.0 2005.3,745.0 2006.1,738.0 2006.9,730.8 2007.6,723.5 2008.3,716.0 2009.0,708.1 2009.8,700.1 2010.5,691.9 2011.2,683.3 2012.0,672.7 2012.9,661.7 2013.7,650.4 2014.5,639.2 2015.1,628.2 2015.6,617.2 2016.2,606.1 2016.7,595.1 2017.2,584.2 2017.7,573.3 2018.3,562.3 2018.9,551.0 2019.6,537.8 2020.4,523.9 2021.3,510.4 2022.1,498.4 2022.6,491.3 2023.2,484.9 2023.8,478.7 2024.3,472.0 2024.8,463.4 2025.4,454.4 2025.9,445.3 2026.5,436.7 2027.0,429.7 2027.5,423.1 2028.1,416.6 2028.7,410.2 2029.2,404.6 2029.8,399.2 2030.3,393.8 2030.9,388.2 2031.5,381.2 2032.1,373.8 2032.7,366.6 2033.4,360.0 2033.9,355.6 2034.5,351.5 2035.1,347.7 2035.7,344.2 2036.1,341.9 2036.5,339.8 2036.9,337.9 2037.3,336.0 2037.6,334.4 2037.9,333.0 2038.3,331.5 2038.8,330.2 2039.3,329.0 2039.9,327.9 2040.6,326.9 2041.3,326.0 2042.0,325.3 2042.7,324.7 2043.5,324.2 2044.3,324.0 2045.0,324.1 2045.8,324.4 2046.6,324.9 2047.3,325.5 2048.0,326.4 2048.7,327.6 2049.3,328.9 2049.9,330.2 2050.6,331.9 2051.4,333.8 2052.1,335.6 2052.8,337.5 2053.4,339.2 2054.0,340.9 2054.6,342.6 2055.3,344.3 2056.0,345.8 2056.7,347.3 2057.5,348.9 2058.3,350.5 2059.4,352.7 2060.5,355.0 2061.7,357.5 2062.8,360.0 2063.8,362.9 2064.7,365.9 2065.7,369.0 2066.8,372.0 2068.2,375.1 2069.7,378.2 2071.3,381.2 2072.8,384.0 2074.0,386.1 2075.1,388.0 2076.3,389.9 2077.3,392.0 2078.3,395.0 2079.1,398.4 2079.9,401.8 2080.8,405.0 2081.6,407.6 2082.5,410.1 2083.4,412.5 2084.3,415.0 2085.2,417.5 2086.1,419.9 2087.0,422.4 2087.8,425.0 2088.5,428.1 2089.1,431.4 2089.7,434.7 2090.3,438.0 2090.8,441.0 2091.3,443.9 2091.7,446.9 2092.3,450.0 2093.0,453.6 2093.7,457.2 2094.5,461.0 2095.4,465.3 2096.7,472.8 2098.0,481.4 2099.5,490.2 2100.9,498.4 2102.1,504.6 2103.4,510.5 2104.6,516.2 2105.8,522.0 2106.8,527.7 2107.8,533.5 2108.8,539.2 2109.8,545.0 2110.9,551.2 2112.0,557.4 2113.1,563.7 2114.3,570.0 2115.5,576.1 2116.7,582.1 2117.9,588.3 2119.2,595.1 2120.8,605.2 2122.5,616.3 2124.1,627.8 2125.8,639.2 2127.5,651.4 2129.3,664.0 2131.0,676.2 2132.5,687.0 2133.4,693.6 2134.2,699.5 2135.0,705.2 2135.8,711.0 2136.6,717.1 2137.4,723.3 2138.2,729.5 2139.0,735.5 2139.7,741.0 2140.3,746.5 2140.9,751.8 2141.6,757.0 2142.2,761.4 2142.8,765.8 2143.4,770.0 2144.1,774.0 2144.7,777.4 2145.3,780.6 2145.9,783.8 2146.6,787.0 2147.2,790.1 2147.8,793.2 2148.5,796.3 2149.2,799.4 2150.0,802.6 2150.8,805.8 2151.7,809.0 2152.6,812.0 2153.5,814.7 2154.4,817.3 2155.4,819.8 2156.4,822.0 2157.1,823.6 2157.8,825.1 2158.6,826.4 2159.4,827.5 2160.0,828.2 2160.7,828.9 2161.4,829.4 2162.1,829.5 2162.7,829.2 2163.4,828.5 2164.0,827.5 2164.6,826.5 2165.3,824.8 2165.9,822.7 2166.5,820.4 2167.1,818.0 2167.8,814.8 2168.4,811.3 2169.0,807.7 2169.6,804.0 2170.2,800.1 2170.8,796.2 2171.4,792.2 2172.1,788.0 2172.8,783.2 2173.5,778.2 2174.3,773.2 2175.1,768.0 2175.9,762.4 2176.9,756.8 2177.7,751.0 2178.6,745.0 2179.4,738.0 2180.1,730.8 2180.9,723.5 2181.6,716.0 2182.3,708.1 2183.0,700.1 2183.8,691.9 2184.5,683.3 2185.3,672.7 2186.2,661.7 2187.0,650.4 2187.8,639.2 2188.4,628.2 2188.9,617.2 2189.4,606.1 2190.0,595.1 2190.5,584.2 2191.0,573.3 2191.6,562.3 2192.2,551.0 2192.9,537.8 2193.7,523.9 2194.6,510.4 2195.4,498.4 2195.9,491.3 2196.5,484.9 2197.0,478.7 2197.6,472.0 2198.1,463.4 2198.7,454.4 2199.2,445.3 2199.8,436.7 2200.3,429.7 2200.8,423.1 2201.4,416.6 2202.0,410.2 2202.5,404.6 2203.1,399.2 2203.6,393.8 2204.2,388.2 2204.8,381.2 2205.4,373.8 2206.0,366.6 2206.7,360.0 2207.2,355.6 2207.8,351.5 2208.4,347.7 2209.0,344.2 2209.4,341.9 2209.8,339.8 2210.2,337.9 2210.6,336.0 2210.9,334.4 2211.2,333.0 2211.6,331.5 2212.1,330.2 2212.6,329.0 2213.2,327.9 2213.8,326.9 2214.6,326.0 2215.3,325.3 2216.0,324.7 2216.8,324.2 2217.6,324.0 2218.3,324.1 2219.1,324.4 2219.9,324.9 2220.6,325.5 2221.3,326.4 2222.0,327.6 2222.6,328.9 2223.2,330.2 2223.9,331.9 2224.7,333.8 2225.4,335.6 2226.1,337.5 2226.7,339.2 2227.3,340.9 2227.9,342.6 2228.6,344.3 2229.3,345.8 2230.0,347.3 2230.8,348.9 2231.6,350.5 2232.7,352.7 2233.8,355.0 2235.0,357.5 2236.1,360.0 2237.1,362.9 2238.0,365.9 2239.0,369.0 2240.1,372.0 2241.5,375.1 2243.0,378.2 2244.6,381.2 2246.1,384.0 2247.3,386.1 2248.4,388.0 2249.6,389.9 2250.6,392.0 2251.6,395.0 2252.4,398.4 2253.2,401.8 2254.1,405.0 2254.9,407.6 2255.8,410.1 2256.7,412.5 2257.6,415.0 2258.5,417.5 2259.4,419.9 2260.3,422.4 2261.1,425.0 2261.8,428.1 2262.4,431.4 2263.0,434.7 2263.6,438.0 2264.1,441.0 2264.6,443.9 2265.0,446.9 2265.6,450.0 2266.3,453.6 2267.0,457.2 2267.8,461.0 2268.7,465.3 2270.0,472.8 2271.3,481.4 2272.7,490.2 2274.2,498.4 2275.4,504.6 2276.7,510.5 2277.9,516.2 2279.1,522.0 2280.1,527.7 2281.1,533.5 2282.1,539.2 2283.1,545.0 2284.2,551.2 2285.3,557.4 2286.4,563.7 2287.6,570.0 2288.8,576.1 2290.0,582.1 2291.2,588.3 2292.5,595.1 2294.1,605.2 2295.8,616.3 2297.4,627.8 2299.1,639.2 2300.8,651.4 2302.6,664.0 2304.3,676.2 2305.8,687.0 2306.7,693.6 2307.5,699.5 2308.3,705.2 2309.1,711.0 2309.9,717.1 2310.7,723.3 2311.5,729.5 2312.3,735.5 2312.9,741.0 2313.6,746.5 2314.2,751.8 2314.5,754.1" fill="none" stroke="#ff0000" stroke-width="13" stroke-linejoin="round" stroke-linecap="butt" shape-rendering="crispEdges"/>
<path d="M226.5,427.6L227.1,429.4 228.1,432.6 229.2,435.8 230.1,439.0 230.9,442.1 231.7,445.2 232.4,448.3 233.0,451.4 233.5,454.7 233.9,458.1 234.3,461.5 234.6,464.9 234.9,468.6 235.1,472.4 235.4,476.2 235.9,479.8 236.6,482.9 237.5,485.8 238.5,488.8 239.4,492.0 240.5,496.8 241.6,502.0 242.7,507.3 243.7,512.4 244.5,516.5 245.3,520.4 246.1,524.3 246.9,528.6 248.1,534.7 249.5,541.2 250.8,548.0 252.1,555.0 253.5,563.4 254.8,572.1 256.1,581.0 257.4,590.0 258.9,599.2 260.4,608.3 261.9,617.9 263.5,628.2 265.7,643.8 268.1,660.9 270.4,678.3 272.4,694.3 273.7,706.4 274.8,718.1 275.8,729.0 276.8,738.4 277.5,743.4 278.1,747.8 278.7,751.9 279.4,756.0 280.0,759.8 280.6,763.6 281.2,767.3 281.9,771.0 282.8,774.8 283.7,778.6 284.8,782.3 285.9,786.0 287.1,789.4 288.4,792.7 289.7,795.9 291.0,799.0 292.0,801.6 293.0,804.2 294.0,806.7 294.9,809.0 295.7,810.8 296.4,812.5 297.1,814.1 297.9,815.5 298.5,816.5 299.1,817.4 299.8,818.2 300.4,818.5 301.0,818.4 301.7,817.9 302.3,817.2 302.9,816.5 303.6,815.4 304.2,814.0 304.8,812.5 305.4,811.0 306.1,809.3 306.7,807.5 307.3,805.8 307.9,804.0 308.5,802.4 309.0,800.9 309.6,799.3 310.1,797.5 310.7,794.9 311.3,792.1 311.9,789.2 312.4,786.0 313.0,781.6 313.5,776.8 314.1,771.9 314.6,767.0 315.2,762.5 315.7,758.1 316.3,753.4 316.9,748.0 317.9,736.6 318.8,723.2 319.8,708.8 320.9,694.3 322.2,678.3 323.7,661.7 325.2,644.9 326.4,628.2 327.4,610.7 328.3,592.7 329.0,575.8 329.7,562.0 330.0,556.5 330.3,551.9 330.5,547.5 330.8,542.5 331.3,533.9 331.8,524.4 332.4,514.6 332.9,505.0 333.4,496.1 333.9,487.2 334.4,478.6 334.9,470.3 335.3,463.6 335.7,457.3 336.2,451.1 336.6,445.0 337.0,439.6 337.4,434.3 337.8,429.1 338.2,424.0 338.6,419.2 339.1,414.4 339.5,409.7 340.0,405.0 340.4,400.3 340.9,395.6 341.3,391.0 341.8,386.3 342.3,381.6 342.8,376.9 343.3,372.3 343.9,368.0 344.4,364.5 345.0,361.2 345.6,358.1 346.2,355.0 346.8,352.3 347.4,349.8 348.1,347.3 348.9,345.0 349.8,342.9 350.7,340.7 351.8,338.9 352.9,338.0 353.9,338.1 354.9,338.7 355.9,339.6 356.9,340.5 358.1,341.9 359.2,343.5 360.3,345.3 361.4,347.0 362.5,348.7 363.6,350.5 364.7,352.3 365.9,354.0 367.1,355.8 368.4,357.5 369.7,359.3 370.9,361.0 371.9,362.6 372.9,364.3 373.9,365.9 374.9,367.5 375.9,369.1 376.9,370.8 377.9,372.4 378.9,374.0 379.8,375.5 380.7,377.0 381.5,378.5 382.4,380.0 383.3,381.7 384.2,383.4 385.1,385.2 385.9,387.0 386.7,388.9 387.4,390.8 388.2,392.8 388.9,395.0 389.9,398.2 390.9,401.7 391.9,405.3 392.9,409.0 394.1,413.2 395.4,417.5 396.7,421.9 398.0,426.0 399.1,429.4 400.1,432.6 401.2,435.8 402.1,439.0 402.9,442.1 403.7,445.2 404.4,448.3 405.0,451.4 405.5,454.7 405.9,458.1 406.3,461.5 406.6,464.9 406.9,468.6 407.1,472.4 407.4,476.2 407.9,479.8 408.6,482.9 409.5,485.8 410.5,488.8 411.4,492.0 412.5,496.8 413.6,502.0 414.7,507.3 415.7,512.4 416.5,516.5 417.3,520.4 418.1,524.3 418.9,528.6 420.1,534.7 421.5,541.2 422.8,548.0 424.1,555.0 425.5,563.4 426.8,572.1 428.1,581.0 429.4,590.0 430.9,599.2 432.4,608.3 433.9,617.9 435.5,628.2 437.7,643.8 440.1,660.9 442.4,678.3 444.4,694.3 445.7,706.4 446.8,718.1 447.8,729.0 448.8,738.4 449.5,743.4 450.1,747.8 450.7,751.9 451.4,756.0 452.0,759.8 452.6,763.6 453.2,767.3 453.9,771.0 454.8,774.8 455.7,778.6 456.8,782.3 457.9,786.0 459.1,789.4 460.4,792.7 461.7,795.9 463.0,799.0 464.0,801.6 465.0,804.2 466.0,806.7 466.9,809.0 467.7,810.8 468.4,812.5 469.1,814.1 469.9,815.5 470.5,816.5 471.1,817.4 471.8,818.2 472.4,818.5 473.0,818.4 473.7,817.9 474.3,817.2 474.9,816.5 475.6,815.4 476.2,814.0 476.8,812.5 477.4,811.0 478.1,809.3 478.7,807.5 479.3,805.8 479.9,804.0 480.5,802.4 481.0,800.9 481.6,799.3 482.1,797.5 482.7,794.9 483.3,792.1 483.9,789.2 484.4,786.0 485.0,781.6 485.5,776.8 486.1,771.9 486.6,767.0 487.2,762.5 487.7,758.1 488.3,753.4 488.9,748.0 489.9,736.6 490.8,723.2 491.8,708.8 492.9,694.3 494.2,678.3 495.7,661.7 497.2,644.9 498.4,628.2 499.4,610.7 500.3,592.7 501.0,575.8 501.7,562.0 502.0,556.5 502.3,551.9 502.5,547.5 502.8,542.5 503.3,533.9 503.8,524.4 504.4,514.6 504.9,505.0 505.4,496.1 505.9,487.2 506.4,478.6 506.9,470.3 507.3,463.6 507.7,457.3 508.2,451.1 508.6,445.0 509.0,439.6 509.4,434.3 509.8,429.1 510.2,424.0 510.6,419.2 511.1,414.4 511.5,409.7 512.0,405.0 512.4,400.3 512.9,395.6 513.3,391.0 513.8,386.3 514.3,381.6 514.8,376.9 515.3,372.3 515.9,368.0 516.4,364.5 517.0,361.2 517.6,358.1 518.2,355.0 518.8,352.3 519.4,349.8 520.1,347.3 520.9,345.0 521.8,342.9 522.7,340.7 523.8,338.9 524.9,338.0 525.9,338.1 526.9,338.7 527.9,339.6 528.9,340.5 530.1,341.9 531.2,343.5 532.3,345.3 533.4,347.0 534.5,348.7 535.6,350.5 536.7,352.3 537.9,354.0 539.1,355.8 540.4,357.5 541.7,359.3 542.9,361.0 543.9,362.6 544.9,364.3 545.9,365.9 546.9,367.5 547.9,369.1 548.9,370.8 549.9,372.4 550.9,374.0 551.8,375.5 552.7,377.0 553.5,378.5 554.4,380.0 555.3,381.7 556.2,383.4 557.1,385.2 557.9,387.0 558.7,388.9 559.4,390.8 560.2,392.8 560.9,395.0 561.9,398.2 562.9,401.7 563.9,405.3 564.9,409.0 566.1,413.2 567.4,417.5 568.7,421.9 570.0,426.0 571.1,429.4 572.1,432.6 573.2,435.8 574.1,439.0 574.9,442.1 575.7,445.2 576.4,448.3 577.0,451.4 577.5,454.7 577.9,458.1 578.3,461.5 578.6,464.9 578.9,468.6 579.1,472.4 579.4,476.2 579.9,479.8 580.6,482.9 581.5,485.8 582.5,488.8 583.4,492.0 584.5,496.8 585.6,502.0 586.7,507.3 587.7,512.4 588.5,516.5 589.3,520.4 590.1,524.3 590.9,528.6 592.1,534.7 593.5,541.2 594.8,548.0 596.1,555.0 597.5,563.4 598.8,572.1 600.1,581.0 601.4,590.0 602.9,599.2 604.4,608.3 605.9,617.9 607.5,628.2 609.7,643.8 612.1,660.9 614.4,678.3 616.4,694.3 617.7,706.4 618.8,718.1 619.8,729.0 620.8,738.4 621.5,743.4 622.1,747.8 622.7,751.9 623.4,756.0 624.0,759.8 624.6,763.6 625.2,767.3 625.9,771.0 626.8,774.8 627.7,778.6 628.8,782.3 629.9,786.0 631.1,789.4 632.4,792.7 633.7,795.9 635.0,799.0 636.0,801.6 637.0,804.2 638.0,806.7 638.9,809.0 639.7,810.8 640.4,812.5 641.1,814.1 641.9,815.5 642.5,816.5 643.1,817.4 643.8,818.2 644.4,818.5 645.0,818.4 645.7,817.9 646.3,817.2 646.9,816.5 647.6,815.4 648.2,814.0 648.8,812.5 649.4,811.0 650.1,809.3 650.7,807.5 651.3,805.8 651.9,804.0 652.5,802.4 653.0,800.9 653.6,799.3 654.1,797.5 654.7,794.9 655.3,792.1 655.9,789.2 656.4,786.0 657.0,781.6 657.5,776.8 658.1,771.9 658.6,767.0 659.2,762.5 659.7,758.1 660.3,753.4 660.9,748.0 661.9,736.6 662.8,723.2 663.8,708.8 664.9,694.3 666.2,678.3 667.7,661.7 669.2,644.9 670.4,628.2 671.4,610.7 672.3,592.7 673.0,575.8 673.7,562.0 674.0,556.5 674.3,551.9 674.5,547.5 674.8,542.5 675.3,533.9 675.8,524.4 676.4,514.6 676.9,505.0 677.4,496.1 677.9,487.2 678.4,478.6 678.9,470.3 679.3,463.6 679.7,457.3 680.2,451.1 680.6,445.0 681.0,439.6 681.4,434.3 681.8,429.1 682.2,424.0 682.6,419.2 683.1,414.4 683.5,409.7 684.0,405.0 684.4,400.3 684.9,395.6 685.3,391.0 685.8,386.3 686.3,381.6 686.8,376.9 687.3,372.3 687.9,368.0 688.4,364.5 689.0,361.2 689.6,358.1 690.2,355.0 690.8,352.3 691.4,349.8 692.1,347.3 692.9,345.0 693.8,342.9 694.7,340.7 695.8,338.9 696.9,338.0 697.9,338.1 698.9,338.7 699.9,339.6 700.9,340.5 702.1,341.9 703.2,343.5 704.3,345.3 705.4,347.0 706.5,348.7 707.6,350.5 708.7,352.3 709.9,354.0 711.1,355.8 712.4,357.5 713.7,359.3 714.9,361.0 715.9,362.6 716.9,364.3 717.9,365.9 718.9,367.5 719.9,369.1 720.9,370.8 721.9,372.4 722.9,374.0 723.8,375.5 724.7,377.0 725.5,378.5 726.4,380.0 727.3,381.7 728.2,383.4 729.1,385.2 729.9,387.0 730.7,388.9 731.4,390.8 732.2,392.8 732.9,395.0 733.9,398.2 734.9,401.7 735.9,405.3 736.9,409.0 738.1,413.2 739.4,417.5 740.7,421.9 742.0,426.0 743.1,429.4 744.1,432.6 745.2,435.8 746.1,439.0 746.9,442.1 747.7,445.2 748.4,448.3 749.0,451.4 749.5,454.7 749.9,458.1 750.3,461.5 750.6,464.9 750.9,468.6 751.1,472.4 751.4,476.2 751.9,479.8 752.6,482.9 753.5,485.8 754.5,488.8 755.4,492.0 756.5,496.8 757.6,502.0 758.7,507.3 759.7,512.4 760.5,516.5 761.3,520.4 762.1,524.3 762.9,528.6 764.1,534.7 765.5,541.2 766.8,548.0 768.1,555.0 769.5,563.4 770.8,572.1 772.1,581.0 773.4,590.0 774.9,599.2 776.4,608.3 777.9,617.9 779.5,628.2 781.7,643.8 784.1,660.9 786.4,678.3 788.4,694.3 789.7,706.4 790.8,718.1 791.8,729.0 792.8,738.4 793.5,743.4 794.1,747.8 794.7,751.9 795.4,756.0 796.0,759.8 796.6,763.6 797.2,767.3 797.9,771.0 798.8,774.8 799.7,778.6 800.8,782.3 801.9,786.0 803.1,789.4 804.4,792.7 805.7,795.9 807.0,799.0 808.0,801.6 809.0,804.2 810.0,806.7 810.9,809.0 811.7,810.8 812.4,812.5 813.1,814.1 813.9,815.5 814.5,816.5 815.1,817.4 815.8,818.2 816.4,818.5 817.0,818.4 817.7,817.9 818.3,817.2 818.9,816.5 819.6,815.4 820.2,814.0 820.8,812.5 821.4,811.0 822.1,809.3 822.7,807.5 823.3,805.8 823.9,804.0 824.5,802.4 825.0,800.9 825.6,799.3 826.1,797.5 826.7,794.9 827.3,792.1 827.9,789.2 828.4,786.0 829.0,781.6 829.5,776.8 830.1,771.9 830.6,767.0 831.2,762.5 831.7,758.1 832.3,753.4 832.9,748.0 833.9,736.6 834.8,723.2 835.8,708.8 836.9,694.3 838.2,678.3 839.7,661.7 841.2,644.9 842.4,628.2 843.4,610.7 844.3,592.7 845.0,575.8 845.7,562.0 846.0,556.5 846.3,551.9 846.5,547.5 846.8,542.5 847.3,533.9 847.8,524.4 848.4,514.6 848.9,505.0 849.4,496.1 849.9,487.2 850.4,478.6 850.9,470.3 851.3,463.6 851.7,457.3 852.2,451.1 852.6,445.0 853.0,439.6 853.4,434.3 853.8,429.1 854.2,424.0 854.6,419.2 855.1,414.4 855.5,409.7 856.0,405.0 856.4,400.3 856.9,395.6 857.3,391.0 857.8,386.3 858.3,381.6 858.8,376.9 859.3,372.3 859.9,368.0 860.4,364.5 861.0,361.2 861.6,358.1 862.2,355.0 862.8,352.3 863.4,349.8 864.1,347.3 864.9,345.0 865.8,342.9 866.7,340.7 867.8,338.9 868.9,338.0 869.9,338.1 870.9,338.7 871.9,339.6 872.9,340.5 874.1,341.9 875.2,343.5 876.3,345.3 877.4,347.0 878.5,348.7 879.6,350.5 880.7,352.3 881.9,354.0 883.1,355.8 884.4,357.5 885.7,359.3 886.9,361.0 887.9,362.6 888.9,364.3 889.9,365.9 890.9,367.5 891.9,369.1 892.9,370.8 893.9,372.4 894.9,374.0 895.8,375.5 896.7,377.0 897.5,378.5 898.4,380.0 899.3,381.7 900.2,383.4 901.1,385.2 901.9,387.0 902.7,388.9 903.4,390.8 904.2,392.8 904.9,395.0 905.9,398.2 906.9,401.7 907.9,405.3 908.9,409.0 910.1,413.2 911.4,417.5 912.7,421.9 914.0,426.0 915.1,429.4 916.1,432.6 917.2,435.8 918.1,439.0 918.9,442.1 919.7,445.2 920.4,448.3 921.0,451.4 921.5,454.7 921.9,458.1 922.3,461.5 922.6,464.9 922.9,468.6 923.1,472.4 923.4,476.2 923.9,479.8 924.6,482.9 925.5,485.8 926.5,488.8 927.4,492.0 928.5,496.8 929.6,502.0 930.7,507.3 931.7,512.4 932.5,516.5 933.3,520.4 934.1,524.3 934.9,528.6 936.1,534.7 937.5,541.2 938.8,548.0 940.1,555.0 941.5,563.4 942.8,572.1 944.1,581.0 945.4,590.0 946.9,599.2 948.4,608.3 949.9,617.9 951.5,628.2 953.7,643.8 956.1,660.9 958.4,678.3 960.4,694.3 961.7,706.4 962.8,718.1 963.8,729.0 964.8,738.4 965.5,743.4 966.1,747.8 966.7,751.9 967.4,756.0 968.0,759.8 968.6,763.6 969.2,767.3 969.9,771.0 970.8,774.8 971.7,778.6 972.8,782.3 973.9,786.0 975.1,789.4 976.4,792.7 977.7,795.9 979.0,799.0 980.0,801.6 981.0,804.2 982.0,806.7 982.9,809.0 983.7,810.8 984.4,812.5 985.1,814.1 985.9,815.5 986.5,816.5 987.1,817.4 987.8,818.2 988.4,818.5 989.0,818.4 989.7,817.9 990.3,817.2 990.9,816.5 991.6,815.4 992.2,814.0 992.8,812.5 993.4,811.0 994.1,809.3 994.7,807.5 995.3,805.8 995.9,804.0 996.5,802.4 997.0,800.9 997.6,799.3 998.1,797.5 998.7,794.9 999.3,792.1 999.9,789.2 1000.4,786.0 1001.0,781.6 1001.5,776.8 1002.1,771.9 1002.6,767.0 1003.2,762.5 1003.7,758.1 1004.3,753.4 1004.9,748.0 1005.9,736.6 1006.8,723.2 1007.8,708.8 1008.9,694.3 1010.2,678.3 1011.7,661.7 1013.2,644.9 1014.4,628.2 1015.4,610.7 1016.3,592.7 1017.0,575.8 1017.7,562.0 1018.0,556.5 1018.3,551.9 1018.5,547.5 1018.8,542.5 1019.3,533.9 1019.8,524.4 1020.4,514.6 1020.9,505.0 1021.4,496.1 1021.9,487.2 1022.4,478.6 1022.9,470.3 1023.3,463.6 1023.7,457.3 1024.2,451.1 1024.6,445.0 1025.0,439.6 1025.4,434.3 1025.8,429.1 1026.2,424.0 1026.6,419.2 1027.1,414.4 1027.5,409.7 1028.0,405.0 1028.4,400.3 1028.9,395.6 1029.3,391.0 1029.8,386.3 1030.3,381.6 1030.8,376.9 1031.3,372.3 1031.9,368.0 1032.4,364.5 1033.0,361.2 1033.6,358.1 1034.2,355.0 1034.8,352.3 1035.4,349.8 1036.1,347.3 1036.9,345.0 1037.8,342.9 1038.7,340.7 1039.8,338.9 1040.9,338.0 1041.9,338.1 1042.9,338.7 1043.9,339.6 1044.9,340.5 1046.1,341.9 1047.2,343.5 1048.3,345.3 1049.4,347.0 1050.5,348.7 1051.6,350.5 1052.7,352.3 1053.9,354.0 1055.1,355.8 1056.4,357.5 1057.7,359.3 1058.9,361.0 1059.9,362.6 1060.9,364.3 1061.9,365.9 1062.9,367.5 1063.9,369.1 1064.9,370.8 1065.9,372.4 1066.9,374.0 1067.8,375.5 1068.7,377.0 1069.5,378.5 1070.4,380.0 1071.3,381.7 1072.2,383.4 1073.1,385.2 1073.9,387.0 1074.7,388.9 1075.4,390.8 1076.2,392.8 1076.9,395.0 1077.9,398.2 1078.9,401.7 1079.9,405.3 1080.9,409.0 1082.1,413.2 1083.4,417.5 1084.7,421.9 1086.0,426.0 1087.1,429.4 1088.1,432.6 1089.2,435.8 1090.1,439.0 1090.9,442.1 1091.7,445.2 1092.4,448.3 1093.0,451.4 1093.5,454.7 1093.9,458.1 1094.3,461.5 1094.6,464.9 1094.9,468.6 1095.1,472.4 1095.4,476.2 1095.9,479.8 1096.6,482.9 1097.5,485.8 1098.5,488.8 1099.4,492.0 1100.5,496.8 1101.6,502.0 1102.7,507.3 1103.7,512.4 1104.5,516.5 1105.3,520.4 1106.1,524.3 1106.9,528.6 1108.1,534.7 1109.5,541.2 1110.8,548.0 1112.1,555.0 1113.5,563.4 1114.8,572.1 1116.1,581.0 1117.4,590.0 1118.9,599.2 1120.4,608.3 1121.9,617.9 1123.5,628.2 1125.7,643.8 1128.1,660.9 1130.4,678.3 1132.4,694.3 1133.7,706.4 1134.8,718.1 1135.8,729.0 1136.8,738.4 1137.5,743.4 1138.1,747.8 1138.7,751.9 1139.4,756.0 1140.0,759.8 1140.6,763.6 1141.2,767.3 1141.9,771.0 1142.8,774.8 1143.7,778.6 1144.8,782.3 1145.9,786.0 1147.1,789.4 1148.4,792.7 1149.7,795.9 1151.0,799.0 1152.0,801.6 1153.0,804.2 1154.0,806.7 1154.9,809.0 1155.7,810.8 1156.4,812.5 1157.1,814.1 1157.9,815.5 1158.5,816.5 1159.1,817.4 1159.8,818.2 1160.4,818.5 1161.0,818.4 1161.7,817.9 1162.3,817.2 1162.9,816.5 1163.6,815.4 1164.2,814.0 1164.8,812.5 1165.4,811.0 1166.1,809.3 1166.7,807.5 1167.3,805.8 1167.9,804.0 1168.5,802.4 1169.0,800.9 1169.6,799.3 1170.1,797.5 1170.7,794.9 1171.3,792.1 1171.9,789.2 1172.4,786.0 1173.0,781.6 1173.5,776.8 1174.1,771.9 1174.6,767.0 1175.2,762.5 1175.7,758.1 1176.3,753.4 1176.9,748.0 1177.9,736.6 1178.8,723.2 1179.8,708.8 1180.9,694.3 1182.2,678.3 1183.7,661.7 1185.2,644.9 1186.4,628.2 1187.4,610.7 1188.3,592.7 1189.0,575.8 1189.7,562.0 1190.0,556.5 1190.3,551.9 1190.5,547.5 1190.8,542.5 1191.3,533.9 1191.8,524.4 1192.4,514.6 1192.9,505.0 1193.4,496.1 1193.9,487.2 1194.4,478.6 1194.9,470.3 1195.3,463.6 1195.7,457.3 1196.2,451.1 1196.6,445.0 1197.0,439.6 1197.4,434.3 1197.8,429.1 1198.2,424.0 1198.6,419.2 1199.1,414.4 1199.5,409.7 1200.0,405.0 1200.4,400.3 1200.9,395.6 1201.3,391.0 1201.8,386.3 1202.3,381.6 1202.8,376.9 1203.3,372.3 1203.9,368.0 1204.4,364.5 1205.0,361.2 1205.6,358.1 1206.2,355.0 1206.8,352.3 1207.4,349.8 1208.1,347.3 1208.9,345.0 1209.8,342.9 1210.7,340.7 1211.8,338.9 1212.9,338.0 1213.9,338.1 1214.9,338.7 1215.9,339.6 1216.9,340.5 1218.1,341.9 1219.2,343.5 1220.3,345.3 1221.4,347.0 1222.5,348.7 1223.6,350.5 1224.7,352.3 1225.9,354.0 1227.1,355.8 1228.4,357.5 1229.7,359.3 1230.9,361.0 1231.9,362.6 1232.9,364.3 1233.9,365.9 1234.9,367.5 1235.9,369.1 1236.9,370.8 1237.9,372.4 1238.9,374.0 1239.8,375.5 1240.7,377.0 1241.5,378.5 1242.4,380.0 1243.3,381.7 1244.2,383.4 1245.1,385.2 1245.9,387.0 1246.7,388.9 1247.4,390.8 1248.2,392.8 1248.9,395.0 1249.9,398.2 1250.9,401.7 1251.9,405.3 1252.9,409.0 1254.1,413.2 1255.4,417.5 1256.7,421.9 1258.0,426.0 1259.1,429.4 1260.1,432.6 1261.2,435.8 1262.1,439.0 1262.9,442.1 1263.7,445.2 1264.4,448.3 1265.0,451.4 1265.5,454.7 1265.9,458.1 1266.3,461.5 1266.6,464.9 1266.9,468.6 1267.1,472.4 1267.4,476.2 1267.9,479.8 1268.6,482.9 1269.5,485.8 1270.5,488.8 1271.4,492.0 1272.5,496.8 1273.6,502.0 1274.7,507.3 1275.7,512.4 1276.5,516.5 1277.3,520.4 1278.1,524.3 1278.9,528.6 1280.1,534.7 1281.5,541.2 1282.8,548.0 1284.1,555.0 1285.5,563.4 1286.8,572.1 1288.1,581.0 1289.4,590.0 1290.9,599.2 1292.4,608.3 1293.9,617.9 1295.5,628.2 1297.7,643.8 1300.1,660.9 1302.4,678.3 1304.4,694.3 1305.7,706.4 1306.8,718.1 1307.8,729.0 1308.8,738.4 1309.5,743.4 1310.1,747.8 1310.7,751.9 1311.4,756.0 1312.0,759.8 1312.6,763.6 1313.2,767.3 1313.9,771.0 1314.8,774.8 1315.7,778.6 1316.8,782.3 1317.9,786.0 1319.1,789.4 1320.4,792.7 1321.7,795.9 1323.0,799.0 1324.0,801.6 1325.0,804.2 1326.0,806.7 1326.9,809.0 1327.7,810.8 1328.4,812.5 1329.1,814.1 1329.9,815.5 1330.5,816.5 1331.1,817.4 1331.8,818.2 1332.4,818.5 1333.0,818.4 1333.7,817.9 1334.3,817.2 1334.9,816.5 1335.6,815.4 1336.2,814.0 1336.8,812.5 1337.4,811.0 1338.1,809.3 1338.7,807.5 1339.3,805.8 1339.9,804.0 1340.5,802.4 1341.0,800.9 1341.6,799.3 1342.1,797.5 1342.7,794.9 1343.3,792.1 1343.9,789.2 1344.4,786.0 1345.0,781.6 1345.5,776.8 1346.1,771.9 1346.6,767.0 1347.2,762.5 1347.7,758.1 1348.3,753.4 1348.9,748.0 1349.9,736.6 1350.8,723.2 1351.8,708.8 1352.9,694.3 1354.2,678.3 1355.7,661.7 1357.2,644.9 1358.4,628.2 1359.4,610.7 1360.3,592.7 1361.0,575.8 1361.7,562.0 1362.0,556.5 1362.3,551.9 1362.5,547.5 1362.8,542.5 1363.3,533.9 1363.8,524.4 1364.4,514.6 1364.9,505.0 1365.4,496.1 1365.9,487.2 1366.4,478.6 1366.9,470.3 1367.3,463.6 1367.7,457.3 1368.2,451.1 1368.6,445.0 1369.0,439.6 1369.4,434.3 1369.8,429.1 1370.2,424.0 1370.6,419.2 1371.1,414.4 1371.5,409.7 1372.0,405.0 1372.4,400.3 1372.9,395.6 1373.3,391.0 1373.8,386.3 1374.3,381.6 1374.8,376.9 1375.3,372.3 1375.9,368.0 1376.4,364.5 1377.0,361.2 1377.6,358.1 1378.2,355.0 1378.8,352.3 1379.4,349.8 1380.1,347.3 1380.9,345.0 1381.8,342.9 1382.7,340.7 1383.8,338.9 1384.9,338.0 1385.9,338.1 1386.9,338.7 1387.9,339.6 1388.9,340.5 1390.1,341.9 1391.2,343.5 1392.3,345.3 1393.4,347.0 1394.5,348.7 1395.6,350.5 1396.7,352.3 1397.9,354.0 1399.1,355.8 1400.4,357.5 1401.7,359.3 1402.9,361.0 1403.9,362.6 1404.9,364.3 1405.9,365.9 1406.9,367.5 1407.9,369.1 1408.9,370.8 1409.9,372.4 1410.9,374.0 1411.8,375.5 1412.7,377.0 1413.5,378.5 1414.4,380.0 1415.3,381.7 1416.2,383.4 1417.1,385.2 1417.9,387.0 1418.7,388.9 1419.4,390.8 1420.2,392.8 1420.9,395.0 1421.9,398.2 1422.9,401.7 1423.9,405.3 1424.9,409.0 1426.1,413.2 1427.4,417.5 1428.7,421.9 1430.0,426.0 1431.1,429.4 1432.1,432.6 1433.2,435.8 1434.1,439.0 1434.9,442.1 1435.7,445.2 1436.4,448.3 1437.0,451.4 1437.5,454.7 1437.9,458.1 1438.3,461.5 1438.6,464.9 1438.9,468.6 1439.1,472.4 1439.4,476.2 1439.9,479.8 1440.6,482.9 1441.5,485.8 1442.5,488.8 1443.4,492.0 1444.5,496.8 1445.6,502.0 1446.7,507.3 1447.7,512.4 1448.5,516.5 1449.3,520.4 1450.1,524.3 1450.9,528.6 1452.1,534.7 1453.5,541.2 1454.8,548.0 1456.1,555.0 1457.5,563.4 1458.8,572.1 1460.1,581.0 1461.4,590.0 1462.9,599.2 1464.4,608.3 1465.9,617.9 1467.5,628.2 1469.7,643.8 1472.1,660.9 1474.4,678.3 1476.4,694.3 1477.7,706.4 1478.8,718.1 1479.8,729.0 1480.8,738.4 1481.5,743.4 1482.1,747.8 1482.7,751.9 1483.4,756.0 1484.0,759.8 1484.6,763.6 1485.2,767.3 1485.9,771.0 1486.8,774.8 1487.7,778.6 1488.8,782.3 1489.9,786.0 1491.1,789.4 1492.4,792.7 1493.7,795.9 1495.0,799.0 1496.0,801.6 1497.0,804.2 1498.0,806.7 1498.9,809.0 1499.7,810.8 1500.4,812.5 1501.1,814.1 1501.9,815.5 1502.5,816.5 1503.1,817.4 1503.8,818.2 1504.4,818.5 1505.0,818.4 1505.7,817.9 1506.3,817.2 1506.9,816.5 1507.6,815.4 1508.2,814.0 1508.8,812.5 1509.4,811.0 1510.1,809.3 1510.7,807.5 1511.3,805.8 1511.9,804.0 1512.5,802.4 1513.0,800.9 1513.6,799.3 1514.1,797.5 1514.7,794.9 1515.3,792.1 1515.9,789.2 1516.4,786.0 1517.0,781.6 1517.5,776.8 1518.1,771.9 1518.6,767.0 1519.2,762.5 1519.7,758.1 1520.3,753.4 1520.9,748.0 1521.9,736.6 1522.8,723.2 1523.8,708.8 1524.9,694.3 1526.2,678.3 1527.7,661.7 1529.2,644.9 1530.4,628.2 1531.4,610.7 1532.3,592.7 1533.0,575.8 1533.7,562.0 1534.0,556.5 1534.3,551.9 1534.5,547.5 1534.8,542.5 1535.3,533.9 1535.8,524.4 1536.4,514.6 1536.9,505.0 1537.4,496.1 1537.9,487.2 1538.4,478.6 1538.9,470.3 1539.3,463.6 1539.7,457.3 1540.2,451.1 1540.6,445.0 1541.0,439.6 1541.4,434.3 1541.8,429.1 1542.2,424.0 1542.6,419.2 1543.1,414.4 1543.5,409.7 1544.0,405.0 1544.4,400.3 1544.9,395.6 1545.3,391.0 1545.8,386.3 1546.3,381.6 1546.8,376.9 1547.3,372.3 1547.9,368.0 1548.4,364.5 1549.0,361.2 1549.6,358.1 1550.2,355.0 1550.8,352.3 1551.4,349.8 1552.1,347.3 1552.9,345.0 1553.8,342.9 1554.7,340.7 1555.8,338.9 1556.9,338.0 1557.9,338.1 1558.9,338.7 1559.9,339.6 1560.9,340.5 1562.1,341.9 1563.2,343.5 1564.3,345.3 1565.4,347.0 1566.5,348.7 1567.6,350.5 1568.7,352.3 1569.9,354.0 1571.1,355.8 1572.4,357.5 1573.7,359.3 1574.9,361.0 1575.9,362.6 1576.9,364.3 1577.9,365.9 1578.9,367.5 1579.9,369.1 1580.9,370.8 1581.9,372.4 1582.9,374.0 1583.8,375.5 1584.7,377.0 1585.5,378.5 1586.4,380.0 1587.3,381.7 1588.2,383.4 1589.1,385.2 1589.9,387.0 1590.7,388.9 1591.4,390.8 1592.2,392.8 1592.9,395.0 1593.9,398.2 1594.9,401.7 1595.9,405.3 1596.9,409.0 1598.1,413.2 1599.4,417.5 1600.7,421.9 1602.0,426.0 1603.1,429.4 1604.1,432.6 1605.2,435.8 1606.1,439.0 1606.9,442.1 1607.7,445.2 1608.4,448.3 1609.0,451.4 1609.5,454.7 1609.9,458.1 1610.3,461.5 1610.6,464.9 1610.9,468.6 1611.1,472.4 1611.4,476.2 1611.9,479.8 1612.6,482.9 1613.5,485.8 1614.5,488.8 1615.4,492.0 1616.5,496.8 1617.6,502.0 1618.7,507.3 1619.7,512.4 1620.5,516.5 1621.3,520.4 1622.1,524.3 1622.9,528.6 1624.1,534.7 1625.5,541.2 1626.8,548.0 1628.1,555.0 1629.5,563.4 1630.8,572.1 1632.1,581.0 1633.4,590.0 1634.9,599.2 1636.4,608.3 1637.9,617.9 1639.5,628.2 1641.7,643.8 1644.1,660.9 1646.4,678.3 1648.4,694.3 1649.7,706.4 1650.8,718.1 1651.8,729.0 1652.8,738.4 1653.5,743.4 1654.1,747.8 1654.7,751.9 1655.4,756.0 1656.0,759.8 1656.6,763.6 1657.2,767.3 1657.9,771.0 1658.8,774.8 1659.7,778.6 1660.8,782.3 1661.9,786.0 1663.1,789.4 1664.4,792.7 1665.7,795.9 1667.0,799.0 1668.0,801.6 1669.0,804.2 1670.0,806.7 1670.9,809.0 1671.7,810.8 1672.4,812.5 1673.1,814.1 1673.9,815.5 1674.5,816.5 1675.1,817.4 1675.8,818.2 1676.4,818.5 1677.0,818.4 1677.7,817.9 1678.3,817.2 1678.9,816.5 1679.6,815.4 1680.2,814.0 1680.8,812.5 1681.4,811.0 1682.1,809.3 1682.7,807.5 1683.3,805.8 1683.9,804.0 1684.5,802.4 1685.0,800.9 1685.6,799.3 1686.1,797.5 1686.7,794.9 1687.3,792.1 1687.9,789.2 1688.4,786.0 1689.0,781.6 1689.5,776.8 1690.1,771.9 1690.6,767.0 1691.2,762.5 1691.7,758.1 1692.3,753.4 1692.9,748.0 1693.9,736.6 1694.8,723.2 1695.8,708.8 1696.9,694.3 1698.2,678.3 1699.7,661.7 1701.2,644.9 1702.4,628.2 1703.4,610.7 1704.3,592.7 1705.0,575.8 1705.7,562.0 1706.0,556.5 1706.3,551.9 1706.5,547.5 1706.8,542.5 1707.3,533.9 1707.8,524.4 1708.4,514.6 1708.9,505.0 1709.4,496.1 1709.9,487.2 1710.4,478.6 1710.9,470.3 1711.3,463.6 1711.7,457.3 1712.2,451.1 1712.6,445.0 1713.0,439.6 1713.4,434.3 1713.8,429.1 1714.2,424.0 1714.6,419.2 1715.1,414.4 1715.5,409.7 1716.0,405.0 1716.4,400.3 1716.9,395.6 1717.3,391.0 1717.8,386.3 1718.3,381.6 1718.8,376.9 1719.3,372.3 1719.9,368.0 1720.4,364.5 1721.0,361.2 1721.6,358.1 1722.2,355.0 1722.8,352.3 1723.4,349.8 1724.1,347.3 1724.9,345.0 1725.8,342.9 1726.7,340.7 1727.8,338.9 1728.9,338.0 1729.9,338.1 1730.9,338.7 1731.9,339.6 1732.9,340.5 1734.1,341.9 1735.2,343.5 1736.3,345.3 1737.4,347.0 1738.5,348.7 1739.6,350.5 1740.7,352.3 1741.9,354.0 1743.1,355.8 1744.4,357.5 1745.7,359.3 1746.9,361.0 1747.9,362.6 1748.9,364.3 1749.9,365.9 1750.9,367.5 1751.9,369.1 1752.9,370.8 1753.9,372.4 1754.9,374.0 1755.8,375.5 1756.7,377.0 1757.5,378.5 1758.4,380.0 1759.3,381.7 1760.2,383.4 1761.1,385.2 1761.9,387.0 1762.7,388.9 1763.4,390.8 1764.2,392.8 1764.9,395.0 1765.9,398.2 1766.9,401.7 1767.9,405.3 1768.9,409.0 1770.1,413.2 1771.4,417.5 1772.7,421.9 1774.0,426.0 1775.1,429.4 1776.1,432.6 1777.2,435.8 1778.1,439.0 1778.9,442.1 1779.7,445.2 1780.4,448.3 1781.0,451.4 1781.5,454.7 1781.9,458.1 1782.3,461.5 1782.6,464.9 1782.9,468.6 1783.1,472.4 1783.4,476.2 1783.9,479.8 1784.6,482.9 1785.5,485.8 1786.5,488.8 1787.4,492.0 1788.5,496.8 1789.6,502.0 1790.7,507.3 1791.7,512.4 1792.5,516.5 1793.3,520.4 1794.1,524.3 1794.9,528.6 1796.1,534.7 1797.5,541.2 1798.8,548.0 1800.1,555.0 1801.5,563.4 1802.8,572.1 1804.1,581.0 1805.4,590.0 1806.9,599.2 1808.4,608.3 1809.9,617.9 1811.5,628.2 1813.7,643.8 1816.1,660.9 1818.4,678.3 1820.4,694.3 1821.7,706.4 1822.8,718.1 1823.8,729.0 1824.8,738.4 1825.5,743.4 1826.1,747.8 1826.7,751.9 1827.4,756.0 1828.0,759.8 1828.6,763.6 1829.2,767.3 1829.9,771.0 1830.8,774.8 1831.7,778.6 1832.8,782.3 1833.9,786.0 1835.1,789.4 1836.4,792.7 1837.7,795.9 1839.0,799.0 1840.0,801.6 1841.0,804.2 1842.0,806.7 1842.9,809.0 1843.7,810.8 1844.4,812.5 1845.1,814.1 1845.9,815.5 1846.5,816.5 1847.1,817.4 1847.8,818.2 1848.4,818.5 1849.0,818.4 1849.7,817.9 1850.3,817.2 1850.9,816.5 1851.6,815.4 1852.2,814.0 1852.8,812.5 1853.4,811.0 1854.1,809.3 1854.7,807.5 1855.3,805.8 1855.9,804.0 1856.5,802.4 1857.0,800.9 1857.6,799.3 1858.1,797.5 1858.7,794.9 1859.3,792.1 1859.9,789.2 1860.4,786.0 1861.0,781.6 1861.5,776.8 1862.1,771.9 1862.6,767.0 1863.2,762.5 1863.7,758.1 1864.3,753.4 1864.9,748.0 1865.9,736.6 1866.8,723.2 1867.8,708.8 1868.9,694.3 1870.2,678.3 1871.7,661.7 1873.2,644.9 1874.4,628.2 1875.4,610.7 1876.3,592.7 1877.0,575.8 1877.7,562.0 1878.0,556.5 1878.3,551.9 1878.5,547.5 1878.8,542.5 1879.3,533.9 1879.8,524.4 1880.4,514.6 1880.9,505.0 1881.4,496.1 1881.9,487.2 1882.4,478.6 1882.9,470.3 1883.3,463.6 1883.7,457.3 1884.2,451.1 1884.6,445.0 1885.0,439.6 1885.4,434.3 1885.8,429.1 1886.2,424.0 1886.6,419.2 1887.1,414.4 1887.5,409.7 1888.0,405.0 1888.4,400.3 1888.9,395.6 1889.3,391.0 1889.8,386.3 1890.3,381.6 1890.8,376.9 1891.3,372.3 1891.9,368.0 1892.4,364.5 1893.0,361.2 1893.6,358.1 1894.2,355.0 1894.8,352.3 1895.4,349.8 1896.1,347.3 1896.9,345.0 1897.8,342.9 1898.7,340.7 1899.8,338.9 1900.9,338.0 1901.9,338.1 1902.9,338.7 1903.9,339.6 1904.9,340.5 1906.1,341.9 1907.2,343.5 1908.3,345.3 1909.4,347.0 1910.5,348.7 1911.6,350.5 1912.7,352.3 1913.9,354.0 1915.1,355.8 1916.4,357.5 1917.7,359.3 1918.9,361.0 1919.9,362.6 1920.9,364.3 1921.9,365.9 1922.9,367.5 1923.9,369.1 1924.9,370.8 1925.9,372.4 1926.9,374.0 1927.8,375.5 1928.7,377.0 1929.5,378.5 1930.4,380.0 1931.3,381.7 1932.2,383.4 1933.1,385.2 1933.9,387.0 1934.7,388.9 1935.4,390.8 1936.2,392.8 1936.9,395.0 1937.9,398.2 1938.9,401.7 1939.9,405.3 1940.9,409.0 1942.1,413.2 1943.4,417.5 1944.7,421.9 1946.0,426.0 1947.1,429.4 1948.1,432.6 1949.2,435.8 1950.1,439.0 1950.9,442.1 1951.7,445.2 1952.4,448.3 1953.0,451.4 1953.5,454.7 1953.9,458.1 1954.3,461.5 1954.6,464.9 1954.9,468.6 1955.1,472.4 1955.4,476.2 1955.9,479.8 1956.6,482.9 1957.5,485.8 1958.5,488.8 1959.4,492.0 1960.5,496.8 1961.6,502.0 1962.7,507.3 1963.7,512.4 1964.5,516.5 1965.3,520.4 1966.1,524.3 1966.9,528.6 1968.1,534.7 1969.5,541.2 1970.8,548.0 1972.1,555.0 1973.5,563.4 1974.8,572.1 1976.1,581.0 1977.4,590.0 1978.9,599.2 1980.4,608.3 1981.9,617.9 1983.5,628.2 1985.7,643.8 1988.1,660.9 1990.4,678.3 1992.4,694.3 1993.7,706.4 1994.8,718.1 1995.8,729.0 1996.8,738.4 1997.5,743.4 1998.1,747.8 1998.7,751.9 1999.4,756.0 2000.0,759.8 2000.6,763.6 2001.2,767.3 2001.9,771.0 2002.8,774.8 2003.7,778.6 2004.8,782.3 2005.9,786.0 2007.1,789.4 2008.4,792.7 2009.7,795.9 2011.0,799.0 2012.0,801.6 2013.0,804.2 2014.0,806.7 2014.9,809.0 2015.7,810.8 2016.4,812.5 2017.1,814.1 2017.9,815.5 2018.5,816.5 2019.1,817.4 2019.8,818.2 2020.4,818.5 2021.0,818.4 2021.7,817.9 2022.3,817.2 2022.9,816.5 2023.6,815.4 2024.2,814.0 2024.8,812.5 2025.4,811.0 2026.1,809.3 2026.7,807.5 2027.3,805.8 2027.9,804.0 2028.5,802.4 2029.0,800.9 2029.6,799.3 2030.1,797.5 2030.7,794.9 2031.3,792.1 2031.9,789.2 2032.4,786.0 2033.0,781.6 2033.5,776.8 2034.1,771.9 2034.6,767.0 2035.2,762.5 2035.7,758.1 2036.3,753.4 2036.9,748.0 2037.9,736.6 2038.8,723.2 2039.8,708.8 2040.9,694.3 2042.2,678.3 2043.7,661.7 2045.2,644.9 2046.4,628.2 2047.4,610.7 2048.3,592.7 2049.0,575.8 2049.7,562.0 2050.0,556.5 2050.3,551.9 2050.5,547.5 2050.8,542.5 2051.3,533.9 2051.8,524.4 2052.4,514.6 2052.9,505.0 2053.4,496.1 2053.9,487.2 2054.4,478.6 2054.9,470.3 2055.3,463.6 2055.7,457.3 2056.2,451.1 2056.6,445.0 2057.0,439.6 2057.4,434.3 2057.8,429.1 2058.2,424.0 2058.6,419.2 2059.1,414.4 2059.5,409.7 2060.0,405.0 2060.4,400.3 2060.9,395.6 2061.3,391.0 2061.8,386.3 2062.3,381.6 2062.8,376.9 2063.3,372.3 2063.9,368.0 2064.4,364.5 2065.0,361.2 2065.6,358.1 2066.2,355.0 2066.8,352.3 2067.4,349.8 2068.1,347.3 2068.9,345.0 2069.8,342.9 2070.7,340.7 2071.8,338.9 2072.9,338.0 2073.9,338.1 2074.9,338.7 2075.9,339.6 2076.9,340.5 2078.1,341.9 2079.2,343.5 2080.3,345.3 2081.4,347.0 2082.5,348.7 2083.6,350.5 2084.7,352.3 2085.9,354.0 2087.1,355.8 2088.4,357.5 2089.7,359.3 2090.9,361.0 2091.9,362.6 2092.9,364.3 2093.9,365.9 2094.9,367.5 2095.9,369.1 2096.9,370.8 2097.9,372.4 2098.9,374.0 2099.8,375.5 2100.7,377.0 2101.5,378.5 2102.4,380.0 2103.3,381.7 2104.2,383.4 2105.1,385.2 2105.9,387.0 2106.7,388.9 2107.4,390.8 2108.2,392.8 2108.9,395.0 2109.9,398.2 2110.9,401.7 2111.9,405.3 2112.9,409.0 2114.1,413.2 2115.4,417.5 2116.7,421.9 2118.0,426.0 2119.1,429.4 2120.1,432.6 2121.2,435.8 2122.1,439.0 2122.9,442.1 2123.7,445.2 2124.4,448.3 2125.0,451.4 2125.5,454.7 2125.9,458.1 2126.3,461.5 2126.6,464.9 2126.9,468.6 2127.1,472.4 2127.4,476.2 2127.9,479.8 2128.6,482.9 2129.5,485.8 2130.5,488.8 2131.4,492.0 2132.5,496.8 2133.6,502.0 2134.7,507.3 2135.7,512.4 2136.5,516.5 2137.3,520.4 2138.1,524.3 2138.9,528.6 2140.1,534.7 2141.5,541.2 2142.8,548.0 2144.1,555.0 2145.5,563.4 2146.8,572.1 2148.1,581.0 2149.4,590.0 2150.9,599.2 2152.4,608.3 2153.9,617.9 2155.5,628.2 2157.7,643.8 2160.1,660.9 2162.4,678.3 2164.4,694.3 2165.7,706.4 2166.8,718.1 2167.8,729.0 2168.8,738.4 2169.5,743.4 2170.1,747.8 2170.7,751.9 2171.4,756.0 2172.0,759.8 2172.6,763.6 2173.2,767.3 2173.9,771.0 2174.8,774.8 2175.7,778.6 2176.8,782.3 2177.9,786.0 2179.1,789.4 2180.4,792.7 2181.7,795.9 2183.0,799.0 2184.0,801.6 2185.0,804.2 2186.0,806.7 2186.9,809.0 2187.7,810.8 2188.4,812.5 2189.1,814.1 2189.9,815.5 2190.5,816.5 2191.1,817.4 2191.8,818.2 2192.4,818.5 2193.0,818.4 2193.7,817.9 2194.3,817.2 2194.9,816.5 2195.6,815.4 2196.2,814.0 2196.8,812.5 2197.4,811.0 2198.1,809.3 2198.7,807.5 2199.3,805.8 2199.9,804.0 2200.5,802.4 2201.0,800.9 2201.6,799.3 2202.1,797.5 2202.7,794.9 2203.3,792.1 2203.9,789.2 2204.4,786.0 2205.0,781.6 2205.5,776.8 2206.1,771.9 2206.6,767.0 2207.2,762.5 2207.7,758.1 2208.3,753.4 2208.9,748.0 2209.9,736.6 2210.8,723.2 2211.8,708.8 2212.9,694.3 2214.2,678.3 2215.7,661.7 2217.2,644.9 2218.4,628.2 2219.4,610.7 2220.3,592.7 2221.0,575.8 2221.7,562.0 2222.0,556.5 2222.3,551.9 2222.5,547.5 2222.8,542.5 2223.3,533.9 2223.8,524.4 2224.4,514.6 2224.9,505.0 2225.4,496.1 2225.9,487.2 2226.4,478.6 2226.9,470.3 2227.3,463.6 2227.7,457.3 2228.2,451.1 2228.6,445.0 2229.0,439.6 2229.4,434.3 2229.8,429.1 2230.2,424.0 2230.6,419.2 2231.1,414.4 2231.5,409.7 2232.0,405.0 2232.4,400.3 2232.9,395.6 2233.3,391.0 2233.8,386.3 2234.3,381.6 2234.8,376.9 2235.3,372.3 2235.9,368.0 2236.4,364.5 2237.0,361.2 2237.6,358.1 2238.2,355.0 2238.8,352.3 2239.4,349.8 2240.1,347.3 2240.9,345.0 2241.8,342.9 2242.7,340.7 2243.8,338.9 2244.9,338.0 2245.9,338.1 2246.9,338.7 2247.9,339.6 2248.9,340.5 2250.1,341.9 2251.2,343.5 2252.3,345.3 2253.4,347.0 2254.5,348.7 2255.6,350.5 2256.7,352.3 2257.9,354.0 2259.1,355.8 2260.4,357.5 2261.7,359.3 2262.9,361.0 2263.9,362.6 2264.9,364.3 2265.9,365.9 2266.9,367.5 2267.9,369.1 2268.9,370.8 2269.9,372.4 2270.9,374.0 2271.8,375.5 2272.7,377.0 2273.5,378.5 2274.4,380.0 2275.3,381.7 2276.2,383.4 2277.1,385.2 2277.9,387.0 2278.7,388.9 2279.4,390.8 2280.2,392.8 2280.9,395.0 2281.9,398.2 2282.9,401.7 2283.9,405.3 2284.9,409.0 2286.1,413.2 2287.4,417.5 2288.7,421.9 2290.0,426.0 2291.1,429.4 2292.1,432.6 2293.2,435.8 2294.1,439.0 2294.9,442.1 2295.7,445.2 2296.4,448.3 2297.0,451.4 2297.5,454.7 2297.9,458.1 2298.3,461.5 2298.6,464.9 2298.9,468.6 2299.1,472.4 2299.4,476.2 2299.9,479.8 2300.6,482.9 2301.5,485.8 2302.5,488.8 2303.4,492.0 2304.5,496.8 2305.6,502.0 2306.7,507.3 2307.7,512.4 2308.5,516.5 2309.3,520.4 2310.1,524.3 2310.9,528.6 2312.1,534.7 2313.5,541.2 2314.5,546.4" fill="none" stroke="#0000ff" stroke-width="13" stroke-linejoin="round" stroke-linecap="butt" shape-rendering="crispEdges"/>
<path d="M226.5,733.8L227.9,746.9 229.6,761.8 230.9,771.7 232.1,781.0 233.3,789.7 234.5,798.0 235.6,804.2 236.7,810.0 237.8,815.7 238.7,821.7 239.7,828.5 240.5,835.5 241.4,842.6 242.2,849.6 243.1,856.6 243.9,863.6 244.8,870.6 245.8,877.7 246.9,885.0 248.0,892.5 249.1,899.6 250.3,905.7 251.1,909.1 252.0,912.1 252.8,914.8 253.7,917.3 254.4,919.2 255.2,920.9 255.9,922.5 256.7,923.8 257.2,924.6 257.7,925.4 258.2,926.0 258.8,926.3 259.5,926.1 260.3,925.5 261.1,924.7 261.8,923.8 262.6,922.5 263.4,920.9 264.1,919.2 264.8,917.3 265.7,914.8 266.5,912.1 267.3,909.1 268.2,905.7 269.4,899.6 270.5,892.5 271.6,885.0 272.7,877.7 273.7,870.6 274.6,863.6 275.4,856.6 276.3,849.6 277.2,842.6 278.0,835.6 278.8,828.6 279.8,821.7 280.8,815.1 281.8,808.7 282.9,802.2 283.8,795.5 284.6,788.0 285.2,780.4 285.8,772.6 286.3,764.7 286.8,756.1 287.3,747.4 287.8,738.6 288.3,729.8 288.9,721.2 289.5,712.8 290.1,704.0 290.8,694.3 291.9,679.2 293.0,662.5 294.2,645.2 295.3,628.2 296.3,610.7 297.4,592.7 298.3,575.8 299.1,562.0 299.5,556.6 299.8,552.2 300.1,547.9 300.4,542.5 301.2,528.7 302.0,511.9 303.0,493.8 303.9,476.4 304.8,459.9 305.8,443.3 306.8,426.7 307.7,410.2 308.6,393.4 309.5,376.3 310.3,359.7 311.2,344.1 311.9,332.1 312.5,320.7 313.2,309.9 313.9,299.8 314.4,292.4 314.9,285.5 315.4,278.7 315.9,271.7 316.6,263.2 317.3,254.5 318.0,245.8 318.7,237.5 319.2,230.8 319.8,224.2 320.4,218.0 320.9,212.4 321.4,208.8 321.8,205.6 322.3,202.5 322.7,199.3 323.0,196.1 323.2,192.8 323.4,189.5 323.7,186.3 324.1,183.3 324.5,180.3 325.0,177.3 325.5,174.2 325.9,170.6 326.3,166.7 326.8,162.9 327.4,159.2 328.0,155.8 328.8,152.5 329.5,149.3 330.3,146.1 331.0,143.2 331.8,140.4 332.5,137.7 333.3,135.1 334.0,132.6 334.7,130.3 335.4,128.0 336.2,126.0 336.9,124.5 337.6,123.1 338.3,122.0 339.0,121.5 339.7,121.9 340.4,122.9 341.1,124.2 341.7,125.5 342.4,127.4 343.0,129.5 343.5,131.8 344.2,134.1 345.0,136.6 345.9,139.3 346.8,142.0 347.6,144.6 348.2,146.8 348.7,148.9 349.1,151.0 349.6,153.1 350.0,155.2 350.4,157.3 350.8,159.4 351.1,161.7 351.4,164.7 351.7,168.0 352.0,171.4 352.3,174.7 352.5,178.0 352.8,181.3 353.0,184.6 353.2,187.8 353.4,190.6 353.5,193.2 353.7,196.0 353.9,199.3 354.4,207.7 355.0,218.0 355.7,229.0 356.5,239.5 357.2,248.7 357.9,257.7 358.7,266.8 359.4,276.2 360.3,287.7 361.3,299.8 362.2,311.6 363.0,321.9 363.4,327.5 363.8,332.4 364.2,337.2 364.6,342.7 365.2,351.1 365.9,360.3 366.6,370.0 367.3,380.0 368.1,392.0 368.8,404.4 369.6,417.7 370.5,432.4 372.2,458.9 374.2,489.6 376.2,519.4 377.8,542.7 378.3,550.6 378.8,556.9 379.2,562.9 379.8,570.0 381.0,583.2 382.3,598.2 383.8,613.7 385.3,628.2 386.6,639.9 387.8,651.3 389.1,662.2 390.3,672.4 391.1,679.5 391.9,685.9 392.7,692.5 393.6,700.0 395.2,714.3 396.9,730.7 398.7,747.5 400.4,762.6 401.6,772.6 402.8,782.0 404.1,790.9 405.3,799.2 406.4,805.5 407.4,811.4 408.5,817.2 409.5,823.2 410.4,830.1 411.3,837.2 412.1,844.4 413.0,851.5 413.8,858.6 414.7,865.7 415.6,872.8 416.6,879.9 417.6,887.3 418.7,894.9 419.9,902.1 421.1,908.3 421.9,911.8 422.7,914.8 423.6,917.6 424.5,920.1 425.2,922.0 425.9,923.8 426.6,925.3 427.5,926.7 428.2,927.6 428.9,928.4 429.7,929.0 430.5,929.2 431.2,929.0 432.0,928.4 432.8,927.6 433.5,926.7 434.3,925.3 435.1,923.8 435.8,922.0 436.5,920.1 437.3,917.6 438.2,914.8 439.0,911.8 439.8,908.3 441.0,902.1 442.2,894.9 443.3,887.3 444.4,879.9 445.3,872.8 446.2,865.7 447.1,858.6 448.0,851.5 448.8,844.4 449.6,837.3 450.5,830.2 451.4,823.2 452.4,816.6 453.5,810.1 454.5,803.5 455.5,796.7 456.2,789.1 456.9,781.4 457.4,773.5 458.0,765.5 458.5,756.8 459.0,748.0 459.4,739.1 460.0,730.2 460.5,721.5 461.1,713.0 461.8,704.1 462.5,694.3 463.5,679.2 464.7,662.5 465.9,645.2 467.0,628.2 468.0,610.7 469.0,592.7 470.0,575.8 470.8,562.0 471.1,556.6 471.4,552.2 471.7,547.9 472.1,542.5 472.8,528.7 473.7,511.9 474.6,493.8 475.6,476.4 476.5,459.9 477.5,443.3 478.4,426.7 479.4,410.2 480.3,393.4 481.1,376.3 482.0,359.7 482.8,344.1 483.6,332.3 484.3,321.0 485.0,310.3 485.7,300.3 486.2,292.9 486.7,286.1 487.2,279.4 487.8,272.4 488.5,264.1 489.2,255.4 489.9,246.8 490.6,238.6 491.2,231.9 491.8,225.4 492.4,219.3 493.0,213.7 493.4,210.2 493.9,207.0 494.3,203.9 494.7,200.8 495.0,197.5 495.3,194.3 495.5,191.1 495.8,187.9 496.2,184.9 496.6,181.9 497.1,179.0 497.6,175.9 498.0,172.3 498.5,168.5 499.0,164.7 499.5,161.0 500.2,157.7 500.9,154.4 501.7,151.2 502.5,148.1 503.2,145.2 504.0,142.5 504.7,139.8 505.5,137.1 506.2,134.7 506.9,132.4 507.7,130.2 508.5,128.2 509.1,126.7 509.8,125.3 510.5,124.2 511.3,123.7 512.0,124.1 512.7,125.1 513.3,126.4 514.0,127.7 514.7,129.5 515.2,131.6 515.8,133.9 516.4,136.1 517.2,138.7 518.1,141.4 519.0,144.0 519.8,146.6 520.4,148.7 520.9,150.9 521.3,152.9 521.7,155.0 522.1,157.1 522.5,159.1 522.9,161.2 523.2,163.5 523.6,166.5 523.9,169.8 524.1,173.1 524.4,176.4 524.6,179.7 524.9,182.9 525.1,186.2 525.3,189.4 525.5,192.1 525.6,194.7 525.7,197.5 525.9,200.8 526.4,209.1 527.0,219.3 527.7,230.2 528.4,240.6 529.1,249.7 529.8,258.6 530.6,267.6 531.3,276.9 532.2,288.3 533.1,300.3 533.9,312.0 534.7,322.1 535.1,327.7 535.5,332.6 535.8,337.4 536.2,342.7 536.9,351.1 537.6,360.3 538.3,370.0 539.0,380.0 539.7,392.0 540.5,404.4 541.3,417.7 542.2,432.4 543.9,458.9 545.9,489.6 547.9,519.4 549.5,542.7 550.0,550.6 550.4,556.9 550.9,562.9 551.5,570.0 552.6,583.2 554.0,598.2 555.5,613.7 557.0,628.2 558.2,639.9 559.5,651.3 560.8,662.2 562.0,672.4 562.8,679.5 563.6,685.9 564.4,692.5 565.3,700.0 566.8,714.2 568.6,730.6 570.3,747.2 572.1,762.2 573.3,772.2 574.5,781.5 575.7,790.3 577.0,798.6 578.0,804.9 579.1,810.7 580.2,816.5 581.2,822.5 582.1,829.3 583.0,836.4 583.8,843.5 584.6,850.6 585.5,857.7 586.4,864.7 587.3,871.8 588.2,878.8 589.3,886.2 590.4,893.7 591.6,900.9 592.8,907.1 593.6,910.5 594.4,913.5 595.2,916.2 596.1,918.8 596.8,920.7 597.5,922.4 598.3,924.0 599.1,925.3 599.8,926.2 600.6,927.0 601.4,927.6 602.1,927.8 602.9,927.6 603.7,927.0 604.4,926.2 605.1,925.3 606.0,924.0 606.7,922.4 607.4,920.7 608.1,918.8 609.0,916.2 609.9,913.5 610.7,910.5 611.5,907.1 612.7,900.9 613.8,893.7 615.0,886.2 616.0,878.8 617.0,871.8 617.9,864.7 618.8,857.7 619.6,850.6 620.5,843.5 621.3,836.5 622.2,829.4 623.1,822.5 624.1,815.9 625.2,809.4 626.2,802.8 627.1,796.1 627.9,788.6 628.5,780.9 629.1,773.0 629.6,765.1 630.2,756.5 630.6,747.7 631.1,738.9 631.6,730.0 632.2,721.4 632.8,712.9 633.4,704.0 634.1,694.3 635.2,679.2 636.3,662.5 637.5,645.2 638.6,628.2 639.7,610.7 640.7,592.7 641.6,575.8 642.4,562.0 642.8,556.6 643.1,552.2 643.4,547.9 643.7,542.5 644.5,528.7 645.4,511.9 646.3,493.8 647.2,476.4 648.2,459.9 649.1,443.3 650.1,426.7 651.0,410.2 651.9,393.4 652.8,376.3 653.7,359.7 654.6,344.1 655.4,332.2 656.2,320.9 657.0,310.1 657.9,300.0 658.5,292.6 659.1,285.8 659.7,279.0 660.3,272.0 661.1,263.6 661.9,254.9 662.7,246.2 663.5,238.0 664.2,231.3 664.8,224.8 665.5,218.6 666.1,213.0 666.6,209.5 667.1,206.2 667.6,203.2 668.0,200.0 668.4,196.7 668.6,193.5 668.9,190.2 669.3,187.0 669.7,184.0 670.2,181.1 670.7,178.1 671.2,175.0 671.7,171.3 672.1,167.5 672.7,163.7 673.3,160.0 674.0,156.6 674.8,153.4 675.6,150.1 676.4,147.0 677.2,144.2 677.9,141.4 678.7,138.6 679.5,136.0 680.2,133.6 681.0,131.2 681.7,129.0 682.6,127.0 683.3,125.5 684.0,124.1 684.7,123.0 685.4,122.5 686.1,122.9 686.8,123.9 687.5,125.2 688.1,126.5 688.8,128.4 689.3,130.5 689.8,132.7 690.4,135.0 691.2,137.6 692.1,140.2 693.0,142.9 693.7,145.5 694.3,147.7 694.7,149.8 695.1,151.9 695.5,154.0 695.9,156.1 696.3,158.1 696.7,160.2 697.0,162.5 697.3,165.6 697.5,168.8 697.7,172.2 698.0,175.5 698.2,178.8 698.4,182.0 698.6,185.3 698.7,188.5 698.9,191.3 699.0,193.9 699.1,196.7 699.2,200.0 699.6,208.3 700.1,218.6 700.7,229.6 701.3,240.0 701.9,249.1 702.5,258.1 703.1,267.1 703.8,276.5 704.5,287.9 705.3,300.0 706.0,311.8 706.7,322.0 707.0,327.6 707.3,332.5 707.6,337.3 708.0,342.7 708.6,351.1 709.2,360.3 709.9,370.0 710.6,380.0 711.4,392.0 712.1,404.4 712.9,417.7 713.8,432.4 715.5,458.9 717.5,489.6 719.5,519.4 721.1,542.7 721.7,550.6 722.1,556.9 722.5,562.9 723.1,570.0 724.3,583.2 725.7,598.2 727.2,613.7 728.6,628.2 729.9,639.9 731.2,651.3 732.4,662.2 733.6,672.4 734.5,679.5 735.2,685.9 736.0,692.5 736.9,700.0 738.5,714.2 740.2,730.6 742.0,747.2 743.7,762.2 745.0,772.2 746.2,781.5 747.4,790.3 748.6,798.6 749.7,804.9 750.8,810.7 751.8,816.5 752.8,822.5 753.8,829.3 754.6,836.4 755.4,843.5 756.3,850.6 757.1,857.7 758.0,864.7 758.9,871.8 759.9,878.8 760.9,886.2 762.0,893.7 763.2,900.9 764.4,907.1 765.2,910.5 766.0,913.5 766.9,916.2 767.8,918.8 768.5,920.7 769.2,922.4 769.9,924.0 770.8,925.3 771.5,926.2 772.2,927.0 773.0,927.6 773.8,927.8 774.5,927.6 775.3,927.0 776.1,926.2 776.8,925.3 777.6,924.0 778.4,922.4 779.1,920.7 779.8,918.8 780.7,916.2 781.5,913.5 782.3,910.5 783.1,907.1 784.3,900.9 785.5,893.7 786.6,886.2 787.7,878.8 788.6,871.8 789.5,864.7 790.4,857.7 791.3,850.6 792.1,843.5 793.0,836.5 793.8,829.4 794.7,822.5 795.7,815.9 796.8,809.4 797.9,802.8 798.8,796.1 799.6,788.6 800.2,780.9 800.7,773.0 801.3,765.1 801.8,756.5 802.3,747.7 802.8,738.9 803.3,730.0 803.9,721.4 804.5,712.9 805.1,704.0 805.8,694.3 806.8,679.2 808.0,662.5 809.2,645.2 810.3,628.2 811.3,610.7 812.3,592.7 813.3,575.8 814.1,562.0 814.4,556.6 814.7,552.2 815.0,547.9 815.4,542.5 816.1,528.7 817.0,511.9 818.0,493.8 818.9,476.4 819.8,459.9 820.8,443.3 821.7,426.8 822.7,410.2 823.6,393.4 824.4,376.3 825.3,359.7 826.2,344.0 826.9,332.0 827.6,320.5 828.3,309.6 829.1,299.3 829.6,291.9 830.1,284.9 830.7,278.1 831.2,271.0 831.9,262.5 832.7,253.6 833.4,244.8 834.1,236.5 834.7,229.7 835.3,223.1 835.9,216.9 836.5,211.2 837.0,207.6 837.5,204.3 837.9,201.2 838.3,198.0 838.6,194.7 838.9,191.4 839.1,188.1 839.4,184.9 839.8,181.8 840.3,178.8 840.7,175.8 841.2,172.7 841.7,169.0 842.1,165.1 842.6,161.2 843.2,157.5 843.9,154.1 844.6,150.8 845.4,147.5 846.2,144.3 846.9,141.4 847.7,138.6 848.4,135.9 849.2,133.2 849.9,130.7 850.6,128.3 851.4,126.1 852.2,124.1 852.8,122.6 853.5,121.1 854.3,120.0 855.0,119.5 855.7,119.9 856.4,120.9 857.1,122.2 857.7,123.6 858.4,125.4 858.9,127.6 859.5,129.9 860.1,132.2 860.9,134.8 861.8,137.5 862.7,140.2 863.5,142.8 864.0,145.0 864.5,147.2 865.0,149.3 865.4,151.4 865.8,153.5 866.2,155.6 866.6,157.7 866.9,160.0 867.2,163.1 867.5,166.4 867.8,169.8 868.0,173.2 868.3,176.5 868.5,179.8 868.7,183.1 868.9,186.4 869.1,189.2 869.2,191.8 869.3,194.6 869.5,198.0 870.0,206.5 870.6,216.9 871.2,228.0 871.9,238.5 872.6,247.8 873.3,256.9 874.0,266.0 874.7,275.5 875.6,287.1 876.5,299.4 877.3,311.2 878.1,321.6 878.5,327.3 878.8,332.3 879.2,337.1 879.6,342.6 880.2,351.0 880.9,360.2 881.6,370.0 882.3,380.0 883.0,392.0 883.8,404.4 884.6,417.7 885.5,432.4 887.2,458.9 889.2,489.6 891.2,519.4 892.8,542.7 893.3,550.6 893.8,556.9 894.2,562.9 894.8,570.0 895.9,583.2 897.3,598.2 898.8,613.7 900.3,628.2 901.5,639.9 902.8,651.3 904.1,662.2 905.3,672.4 906.1,679.5 906.9,685.9 907.7,692.5 908.6,700.0 910.1,714.2 911.9,730.6 913.7,747.2 915.4,762.2 916.6,772.2 917.8,781.5 919.0,790.3 920.3,798.6 921.3,804.9 922.4,810.7 923.5,816.5 924.5,822.5 925.4,829.3 926.3,836.4 927.1,843.5 927.9,850.6 928.8,857.7 929.7,864.7 930.6,871.8 931.5,878.8 932.6,886.2 933.7,893.7 934.9,900.9 936.1,907.1 936.9,910.5 937.7,913.5 938.5,916.2 939.4,918.8 940.1,920.7 940.8,922.4 941.6,924.0 942.4,925.3 943.1,926.2 943.9,927.0 944.7,927.6 945.4,927.8 946.2,927.6 947.0,927.0 947.7,926.2 948.4,925.3 949.3,924.0 950.0,922.4 950.7,920.7 951.4,918.8 952.3,916.2 953.2,913.5 954.0,910.5 954.8,907.1 956.0,900.9 957.2,893.7 958.3,886.2 959.3,878.8 960.3,871.8 961.2,864.7 962.1,857.7 962.9,850.6 963.8,843.5 964.6,836.5 965.5,829.4 966.4,822.5 967.4,815.9 968.5,809.4 969.5,802.8 970.4,796.1 971.2,788.6 971.8,780.9 972.4,773.0 972.9,765.1 973.5,756.5 974.0,747.7 974.4,738.9 974.9,730.0 975.5,721.4 976.1,712.9 976.8,704.0 977.4,694.3 978.5,679.2 979.7,662.5 980.8,645.2 981.9,628.2 983.0,610.7 984.0,592.7 984.9,575.8 985.7,562.0 986.1,556.6 986.4,552.2 986.7,547.9 987.0,542.5 987.8,528.7 988.7,511.9 989.6,493.8 990.5,476.4 991.5,459.9 992.4,443.3 993.4,426.7 994.3,410.2 995.2,393.4 996.1,376.3 997.0,359.7 997.9,344.0 998.7,332.1 999.4,320.6 1000.2,309.8 1001.0,299.6 1001.6,292.1 1002.2,285.2 1002.8,278.4 1003.4,271.3 1004.1,262.8 1004.9,254.0 1005.7,245.3 1006.5,237.0 1007.1,230.2 1007.8,223.6 1008.4,217.4 1009.0,211.8 1009.5,208.2 1010.0,205.0 1010.5,201.9 1010.9,198.7 1011.2,195.4 1011.5,192.1 1011.7,188.8 1012.1,185.6 1012.5,182.5 1013.0,179.6 1013.5,176.6 1013.9,173.5 1014.4,169.8 1014.9,165.9 1015.4,162.1 1016.0,158.3 1016.7,154.9 1017.5,151.6 1018.3,148.4 1019.1,145.2 1019.8,142.3 1020.6,139.5 1021.4,136.8 1022.2,134.1 1022.9,131.7 1023.6,129.3 1024.4,127.0 1025.2,125.0 1025.9,123.6 1026.6,122.1 1027.3,121.0 1028.0,120.5 1028.7,120.9 1029.4,121.9 1030.1,123.2 1030.7,124.5 1031.4,126.4 1031.9,128.5 1032.5,130.8 1033.1,133.1 1033.9,135.7 1034.8,138.4 1035.6,141.1 1036.4,143.7 1037.0,145.9 1037.4,148.0 1037.8,150.1 1038.3,152.3 1038.7,154.4 1039.0,156.4 1039.4,158.6 1039.7,160.9 1040.0,163.9 1040.3,167.2 1040.5,170.6 1040.7,174.0 1041.0,177.3 1041.2,180.6 1041.4,183.9 1041.6,187.1 1041.7,189.9 1041.8,192.5 1041.9,195.3 1042.1,198.7 1042.5,207.1 1043.1,217.5 1043.7,228.5 1044.3,239.0 1044.9,248.3 1045.5,257.3 1046.2,266.4 1046.9,275.9 1047.6,287.4 1048.4,299.6 1049.2,311.4 1049.9,321.8 1050.3,327.4 1050.6,332.3 1050.9,337.2 1051.3,342.6 1051.9,351.1 1052.6,360.2 1053.3,370.0 1053.9,380.0 1054.7,392.0 1055.4,404.4 1056.2,417.7 1057.1,432.4 1058.8,458.9 1060.9,489.6 1062.8,519.4 1064.4,542.7 1065.0,550.6 1065.4,556.9 1065.9,562.9 1066.4,570.0 1067.6,583.2 1069.0,598.2 1070.5,613.7 1071.9,628.2 1073.2,639.9 1074.5,651.3 1075.8,662.2 1076.9,672.4 1077.8,679.5 1078.6,685.9 1079.4,692.5 1080.2,700.0 1081.8,714.3 1083.5,730.9 1085.3,747.8 1087.0,763.0 1088.3,773.1 1089.5,782.5 1090.7,791.4 1091.9,799.9 1093.0,806.2 1094.1,812.1 1095.2,818.0 1096.1,824.0 1097.1,831.0 1097.9,838.1 1098.8,845.3 1099.6,852.5 1100.5,859.7 1101.3,866.8 1102.2,874.0 1103.2,881.1 1104.3,888.6 1105.4,896.2 1106.5,903.4 1107.7,909.7 1108.5,913.1 1109.4,916.2 1110.2,919.0 1111.1,921.6 1111.8,923.5 1112.5,925.2 1113.3,926.8 1114.1,928.2 1114.8,929.1 1115.6,929.9 1116.3,930.5 1117.1,930.7 1117.9,930.5 1118.6,929.9 1119.4,929.1 1120.1,928.2 1120.9,926.8 1121.7,925.2 1122.4,923.5 1123.1,921.6 1124.0,919.0 1124.8,916.2 1125.6,913.1 1126.4,909.7 1127.7,903.4 1128.8,896.2 1129.9,888.6 1131.0,881.1 1132.0,874.0 1132.9,866.8 1133.7,859.7 1134.6,852.5 1135.5,845.4 1136.3,838.2 1137.1,831.1 1138.0,824.0 1139.1,817.3 1140.1,810.8 1141.2,804.2 1142.1,797.4 1142.9,789.7 1143.5,781.9 1144.1,774.0 1144.6,765.9 1145.1,757.2 1145.6,748.3 1146.1,739.4 1146.6,730.4 1147.2,721.7 1147.8,713.1 1148.4,704.1 1149.1,694.3 1150.2,679.2 1151.3,662.5 1152.5,645.2 1153.6,628.2 1154.6,610.7 1155.7,592.7 1156.6,575.8 1157.4,562.0 1157.8,556.6 1158.1,552.2 1158.4,547.9 1158.7,542.5 1159.5,528.7 1160.3,511.9 1161.3,493.8 1162.2,476.4 1163.1,459.9 1164.1,443.3 1165.1,426.7 1166.0,410.2 1166.9,393.4 1167.8,376.3 1168.6,359.7 1169.5,344.1 1170.2,332.2 1171.0,320.9 1171.7,310.1 1172.4,300.0 1172.9,292.6 1173.5,285.8 1174.0,279.0 1174.6,272.0 1175.3,263.6 1176.0,254.9 1176.8,246.2 1177.5,238.0 1178.1,231.3 1178.7,224.8 1179.3,218.6 1179.9,213.0 1180.4,209.5 1180.8,206.2 1181.3,203.2 1181.7,200.0 1182.0,196.7 1182.2,193.5 1182.5,190.2 1182.8,187.0 1183.2,184.0 1183.7,181.1 1184.1,178.1 1184.6,175.0 1185.1,171.3 1185.5,167.5 1186.0,163.7 1186.6,160.0 1187.3,156.6 1188.0,153.4 1188.8,150.1 1189.6,147.0 1190.3,144.2 1191.1,141.4 1191.8,138.6 1192.6,136.0 1193.3,133.6 1194.0,131.2 1194.8,129.0 1195.6,127.0 1196.3,125.5 1197.0,124.1 1197.7,123.0 1198.4,122.5 1199.1,122.9 1199.8,123.9 1200.5,125.2 1201.1,126.5 1201.8,128.4 1202.4,130.5 1202.9,132.7 1203.5,135.0 1204.3,137.6 1205.2,140.2 1206.1,142.9 1206.9,145.5 1207.5,147.7 1207.9,149.8 1208.4,151.9 1208.8,154.0 1209.2,156.1 1209.6,158.1 1210.0,160.2 1210.3,162.5 1210.6,165.6 1210.9,168.8 1211.2,172.2 1211.4,175.5 1211.6,178.8 1211.9,182.0 1212.1,185.3 1212.3,188.5 1212.5,191.3 1212.6,193.9 1212.7,196.7 1212.9,200.0 1213.4,208.3 1214.0,218.6 1214.6,229.6 1215.3,240.0 1216.0,249.1 1216.7,258.1 1217.4,267.1 1218.1,276.5 1218.9,287.9 1219.8,300.0 1220.7,311.8 1221.4,322.0 1221.8,327.6 1222.2,332.5 1222.5,337.3 1222.9,342.7 1223.5,351.1 1224.2,360.3 1224.9,370.0 1225.6,380.0 1226.4,392.0 1227.1,404.4 1227.9,417.7 1228.8,432.4 1230.5,458.9 1232.5,489.6 1234.5,519.4 1236.1,542.7 1236.6,550.6 1237.1,556.9 1237.5,562.9 1238.1,570.0 1239.3,583.2 1240.6,598.2 1242.1,613.7 1243.6,628.2 1244.9,639.9 1246.1,651.3 1247.4,662.2 1248.6,672.4 1249.4,679.5 1250.2,685.9 1251.0,692.5 1251.9,700.0 1253.5,714.2 1255.2,730.6 1257.0,747.2 1258.7,762.2 1259.9,772.2 1261.1,781.5 1262.4,790.3 1263.6,798.6 1264.7,804.9 1265.7,810.7 1266.8,816.5 1267.8,822.5 1268.7,829.3 1269.6,836.4 1270.4,843.5 1271.3,850.6 1272.1,857.7 1273.0,864.7 1273.9,871.8 1274.9,878.8 1275.9,886.2 1277.0,893.7 1278.2,900.9 1279.4,907.1 1280.2,910.5 1281.0,913.5 1281.9,916.2 1282.8,918.8 1283.5,920.7 1284.2,922.4 1284.9,924.0 1285.8,925.3 1286.5,926.2 1287.2,927.0 1288.0,927.6 1288.8,927.8 1289.5,927.6 1290.3,927.0 1291.1,926.2 1291.8,925.3 1292.6,924.0 1293.4,922.4 1294.1,920.7 1294.8,918.8 1295.6,916.2 1296.5,913.5 1297.3,910.5 1298.1,907.1 1299.3,900.9 1300.5,893.7 1301.6,886.2 1302.7,878.8 1303.6,871.8 1304.5,864.7 1305.4,857.7 1306.3,850.6 1307.1,843.5 1307.9,836.5 1308.8,829.4 1309.7,822.5 1310.7,815.9 1311.8,809.4 1312.8,802.8 1313.8,796.1 1314.5,788.6 1315.2,780.9 1315.7,773.0 1316.3,765.1 1316.8,756.5 1317.3,747.7 1317.7,738.9 1318.3,730.0 1318.8,721.4 1319.4,712.9 1320.1,704.0 1320.8,694.3 1321.8,679.2 1323.0,662.5 1324.2,645.2 1325.3,628.2 1326.3,610.7 1327.3,592.7 1328.3,575.8 1329.1,562.0 1329.4,556.6 1329.7,552.2 1330.0,547.9 1330.4,542.5 1331.1,528.7 1332.0,511.9 1332.9,493.8 1333.9,476.4 1334.8,459.9 1335.8,443.3 1336.7,426.7 1337.7,410.2 1338.6,393.4 1339.4,376.3 1340.3,359.7 1341.2,344.1 1341.9,332.2 1342.6,320.9 1343.3,310.1 1344.1,300.0 1344.6,292.6 1345.1,285.8 1345.7,279.0 1346.3,272.0 1347.0,263.6 1347.7,254.9 1348.4,246.2 1349.2,238.0 1349.8,231.3 1350.4,224.8 1351.0,218.6 1351.6,213.0 1352.0,209.5 1352.5,206.2 1353.0,203.2 1353.4,200.0 1353.7,196.7 1353.9,193.5 1354.1,190.2 1354.5,187.0 1354.9,184.0 1355.3,181.1 1355.8,178.1 1356.3,175.0 1356.7,171.3 1357.2,167.5 1357.7,163.7 1358.3,160.0 1358.9,156.6 1359.7,153.4 1360.5,150.1 1361.3,147.0 1362.0,144.2 1362.7,141.4 1363.5,138.6 1364.3,136.0 1365.0,133.6 1365.7,131.2 1366.4,129.0 1367.3,127.0 1367.9,125.5 1368.6,124.1 1369.3,123.0 1370.1,122.5 1370.8,122.9 1371.5,123.9 1372.1,125.2 1372.8,126.5 1373.4,128.4 1374.0,130.5 1374.6,132.7 1375.2,135.0 1376.0,137.6 1376.9,140.2 1377.8,142.9 1378.6,145.5 1379.1,147.7 1379.6,149.8 1380.0,151.9 1380.5,154.0 1380.9,156.1 1381.3,158.1 1381.6,160.2 1382.0,162.5 1382.3,165.6 1382.6,168.8 1382.8,172.2 1383.1,175.5 1383.3,178.8 1383.5,182.0 1383.8,185.3 1384.0,188.5 1384.1,191.3 1384.2,193.9 1384.4,196.7 1384.6,200.0 1385.0,208.3 1385.6,218.6 1386.3,229.6 1387.0,240.0 1387.6,249.1 1388.3,258.1 1389.0,267.1 1389.8,276.5 1390.6,287.9 1391.5,300.0 1392.3,311.8 1393.1,322.0 1393.5,327.6 1393.8,332.5 1394.2,337.3 1394.6,342.7 1395.2,351.1 1395.9,360.3 1396.6,370.0 1397.3,380.0 1398.0,392.0 1398.8,404.4 1399.6,417.7 1400.5,432.4 1402.2,458.9 1404.2,489.6 1406.2,519.4 1407.8,542.7 1408.3,550.6 1408.7,556.9 1409.2,562.9 1409.8,570.0 1410.9,583.2 1412.3,598.2 1413.8,613.7 1415.3,628.2 1416.5,639.9 1417.8,651.3 1419.1,662.2 1420.3,672.4 1421.1,679.5 1421.9,685.9 1422.7,692.5 1423.6,700.0 1425.1,714.1 1426.8,730.5 1428.6,747.1 1430.4,762.0 1431.6,771.9 1432.8,781.2 1434.0,790.0 1435.3,798.3 1436.3,804.5 1437.4,810.3 1438.5,816.1 1439.5,822.0 1440.4,828.9 1441.3,835.9 1442.1,843.0 1442.9,850.1 1443.8,857.1 1444.7,864.1 1445.6,871.2 1446.5,878.2 1447.6,885.5 1448.7,893.1 1449.9,900.2 1451.1,906.3 1451.9,909.7 1452.7,912.7 1453.5,915.5 1454.4,918.0 1455.1,919.9 1455.8,921.6 1456.6,923.2 1457.4,924.5 1458.1,925.4 1458.9,926.2 1459.7,926.8 1460.4,927.0 1461.2,926.8 1462.0,926.2 1462.7,925.4 1463.4,924.5 1464.3,923.2 1465.0,921.6 1465.7,919.9 1466.4,918.0 1467.3,915.5 1468.2,912.7 1469.0,909.7 1469.8,906.3 1471.0,900.2 1472.1,893.1 1473.3,885.5 1474.3,878.2 1475.3,871.2 1476.2,864.1 1477.1,857.1 1477.9,850.1 1478.8,843.0 1479.6,836.0 1480.5,829.0 1481.4,822.0 1482.4,815.5 1483.5,809.0 1484.5,802.5 1485.4,795.8 1486.2,788.3 1486.8,780.6 1487.4,772.8 1487.9,764.9 1488.5,756.3 1488.9,747.6 1489.4,738.7 1489.9,729.9 1490.5,721.3 1491.1,712.8 1491.7,704.0 1492.4,694.3 1493.5,679.2 1494.6,662.5 1495.8,645.2 1496.9,628.2 1498.0,610.7 1499.0,592.7 1499.9,575.8 1500.7,562.0 1501.1,556.6 1501.4,552.2 1501.7,547.9 1502.0,542.5 1502.8,528.7 1503.7,511.9 1504.6,493.8 1505.5,476.4 1506.5,459.9 1507.4,443.3 1508.4,426.7 1509.3,410.2 1510.2,393.4 1511.1,376.3 1511.9,359.7 1512.8,344.1 1513.5,332.2 1514.3,320.9 1515.0,310.1 1515.7,300.0 1516.3,292.6 1516.8,285.8 1517.3,279.0 1517.9,272.0 1518.6,263.6 1519.3,254.9 1520.1,246.2 1520.8,238.0 1521.4,231.3 1522.0,224.8 1522.6,218.6 1523.2,213.0 1523.7,209.5 1524.2,206.2 1524.6,203.2 1525.0,200.0 1525.3,196.7 1525.6,193.5 1525.8,190.2 1526.1,187.0 1526.5,184.0 1527.0,181.1 1527.5,178.1 1527.9,175.0 1528.4,171.3 1528.8,167.5 1529.3,163.7 1529.9,160.0 1530.6,156.6 1531.3,153.4 1532.1,150.1 1532.9,147.0 1533.6,144.2 1534.4,141.4 1535.1,138.6 1535.9,136.0 1536.6,133.6 1537.4,131.2 1538.1,129.0 1538.9,127.0 1539.6,125.5 1540.3,124.1 1541.0,123.0 1541.7,122.5 1542.4,122.9 1543.1,123.9 1543.8,125.2 1544.4,126.5 1545.1,128.4 1545.7,130.5 1546.2,132.7 1546.8,135.0 1547.6,137.6 1548.6,140.2 1549.4,142.9 1550.2,145.5 1550.8,147.7 1551.3,149.8 1551.7,151.9 1552.1,154.0 1552.5,156.1 1552.9,158.1 1553.3,160.2 1553.6,162.5 1554.0,165.6 1554.2,168.8 1554.5,172.2 1554.7,175.5 1555.0,178.8 1555.2,182.0 1555.4,185.3 1555.6,188.5 1555.8,191.3 1555.9,193.9 1556.0,196.7 1556.2,200.0 1556.7,208.3 1557.3,218.6 1557.9,229.6 1558.6,240.0 1559.3,249.1 1560.0,258.1 1560.7,267.1 1561.4,276.5 1562.3,287.9 1563.1,300.0 1564.0,311.8 1564.7,322.0 1565.1,327.6 1565.5,332.5 1565.8,337.3 1566.2,342.7 1566.8,351.1 1567.5,360.3 1568.2,370.0 1568.9,380.0 1569.7,392.0 1570.4,404.4 1571.2,417.7 1572.1,432.4 1573.8,458.9 1575.8,489.6 1577.8,519.4 1579.4,542.7 1580.0,550.6 1580.4,556.9 1580.8,562.9 1581.4,570.0 1582.6,583.2 1584.0,598.2 1585.5,613.7 1586.9,628.2 1588.2,639.9 1589.5,651.3 1590.7,662.2 1591.9,672.4 1592.8,679.5 1593.5,685.9 1594.3,692.5 1595.2,700.0 1596.8,714.1 1598.5,730.4 1600.3,746.9 1602.0,761.8 1603.3,771.7 1604.5,781.0 1605.7,789.7 1606.9,798.0 1608.0,804.2 1609.1,810.0 1610.1,815.7 1611.1,821.7 1612.1,828.5 1612.9,835.5 1613.7,842.6 1614.6,849.6 1615.4,856.6 1616.3,863.6 1617.2,870.6 1618.2,877.7 1619.2,885.0 1620.3,892.5 1621.5,899.6 1622.7,905.7 1623.5,909.1 1624.3,912.1 1625.2,914.8 1626.1,917.3 1626.8,919.2 1627.5,920.9 1628.2,922.5 1629.1,923.8 1629.8,924.7 1630.5,925.5 1631.3,926.1 1632.1,926.3 1632.8,926.1 1633.6,925.5 1634.4,924.7 1635.1,923.8 1635.9,922.5 1636.7,920.9 1637.4,919.2 1638.1,917.3 1639.0,914.8 1639.8,912.1 1640.6,909.1 1641.4,905.7 1642.6,899.6 1643.8,892.5 1644.9,885.0 1646.0,877.7 1646.9,870.6 1647.8,863.6 1648.7,856.6 1649.6,849.6 1650.4,842.6 1651.3,835.6 1652.1,828.6 1653.0,821.7 1654.0,815.1 1655.1,808.7 1656.2,802.2 1657.1,795.5 1657.9,788.0 1658.5,780.4 1659.0,772.6 1659.6,764.7 1660.1,756.1 1660.6,747.4 1661.1,738.6 1661.6,729.8 1662.2,721.2 1662.8,712.8 1663.4,704.0 1664.1,694.3 1665.1,679.2 1666.3,662.5 1667.5,645.2 1668.6,628.2 1669.6,610.7 1670.6,592.7 1671.6,575.8 1672.4,562.0 1672.7,556.6 1673.0,552.2 1673.3,547.9 1673.7,542.5 1674.4,528.7 1675.3,511.9 1676.3,493.8 1677.2,476.4 1678.1,459.9 1679.1,443.3 1680.0,426.7 1681.0,410.2 1681.9,393.4 1682.7,376.3 1683.6,359.7 1684.5,344.1 1685.2,332.2 1685.9,320.9 1686.7,310.1 1687.4,300.0 1687.9,292.6 1688.5,285.8 1689.0,279.0 1689.6,272.0 1690.3,263.6 1691.0,254.9 1691.8,246.2 1692.5,238.0 1693.1,231.3 1693.7,224.8 1694.3,218.6 1694.9,213.0 1695.3,209.5 1695.8,206.2 1696.3,203.2 1696.7,200.0 1697.0,196.7 1697.2,193.5 1697.5,190.2 1697.8,187.0 1698.2,184.0 1698.6,181.1 1699.1,178.1 1699.6,175.0 1700.1,171.3 1700.5,167.5 1701.0,163.7 1701.6,160.0 1702.2,156.6 1703.0,153.4 1703.8,150.1 1704.6,147.0 1705.3,144.2 1706.0,141.4 1706.8,138.6 1707.6,136.0 1708.3,133.6 1709.0,131.2 1709.8,129.0 1710.6,127.0 1711.2,125.5 1711.9,124.1 1712.7,123.0 1713.4,122.5 1714.1,122.9 1714.8,123.9 1715.5,125.2 1716.1,126.5 1716.8,128.4 1717.3,130.5 1717.9,132.7 1718.5,135.0 1719.3,137.6 1720.2,140.2 1721.1,142.9 1721.9,145.5 1722.4,147.7 1722.9,149.8 1723.4,151.9 1723.8,154.0 1724.2,156.1 1724.6,158.1 1725.0,160.2 1725.3,162.5 1725.6,165.6 1725.9,168.8 1726.1,172.2 1726.4,175.5 1726.6,178.8 1726.9,182.0 1727.1,185.3 1727.3,188.5 1727.4,191.3 1727.6,193.9 1727.7,196.7 1727.9,200.0 1728.4,208.3 1728.9,218.6 1729.6,229.6 1730.3,240.0 1730.9,249.1 1731.6,258.1 1732.4,267.1 1733.1,276.5 1733.9,287.9 1734.8,300.0 1735.6,311.8 1736.4,322.0 1736.8,327.6 1737.1,332.5 1737.5,337.3 1737.9,342.7 1738.5,351.1 1739.2,360.3 1739.9,370.0 1740.6,380.0 1741.3,392.0 1742.1,404.4 1742.9,417.7 1743.8,432.4 1745.5,458.9 1747.5,489.6 1749.5,519.4 1751.1,542.7 1751.6,550.6 1752.1,556.9 1752.5,562.9 1753.1,570.0 1754.2,583.2 1755.6,598.2 1757.1,613.7 1758.6,628.2 1759.8,639.9 1761.1,651.3 1762.4,662.2 1763.6,672.4 1764.4,679.5 1765.2,685.9 1766.0,692.5 1766.9,700.0 1768.4,714.4 1770.2,731.0 1772.0,747.9 1773.7,763.1 1774.9,773.2 1776.1,782.6 1777.3,791.6 1778.6,800.0 1779.6,806.4 1780.7,812.3 1781.8,818.1 1782.8,824.2 1783.7,831.1 1784.6,838.3 1785.4,845.5 1786.2,852.7 1787.1,859.9 1788.0,867.0 1788.9,874.2 1789.8,881.3 1790.9,888.8 1792.0,896.5 1793.2,903.7 1794.4,910.0 1795.2,913.4 1796.0,916.5 1796.8,919.3 1797.7,921.9 1798.4,923.7 1799.1,925.5 1799.9,927.1 1800.7,928.5 1801.4,929.4 1802.2,930.2 1803.0,930.8 1803.7,931.0 1804.5,930.8 1805.3,930.2 1806.0,929.4 1806.7,928.5 1807.6,927.1 1808.3,925.5 1809.0,923.7 1809.7,921.9 1810.6,919.3 1811.5,916.5 1812.3,913.4 1813.1,910.0 1814.3,903.7 1815.5,896.5 1816.6,888.8 1817.6,881.3 1818.6,874.2 1819.5,867.0 1820.4,859.9 1821.2,852.7 1822.1,845.6 1822.9,838.4 1823.8,831.2 1824.7,824.2 1825.7,817.5 1826.8,810.9 1827.8,804.3 1828.7,797.5 1829.5,789.8 1830.1,782.0 1830.7,774.1 1831.2,766.0 1831.8,757.3 1832.3,748.4 1832.7,739.4 1833.2,730.5 1833.8,721.7 1834.4,713.1 1835.1,704.1 1835.7,694.3 1836.8,679.2 1838.0,662.5 1839.1,645.2 1840.2,628.2 1841.3,610.7 1842.3,592.7 1843.2,575.8 1844.0,562.0 1844.4,556.6 1844.7,552.2 1845.0,547.9 1845.3,542.5 1846.1,528.7 1847.0,511.9 1847.9,493.8 1848.8,476.4 1849.8,459.9 1850.7,443.3 1851.7,426.7 1852.6,410.2 1853.5,393.4 1854.4,376.3 1855.3,359.7 1856.1,344.1 1856.9,332.2 1857.6,320.9 1858.3,310.1 1859.0,300.0 1859.6,292.6 1860.1,285.8 1860.7,279.0 1861.2,272.0 1861.9,263.6 1862.7,254.9 1863.4,246.2 1864.1,238.0 1864.7,231.3 1865.3,224.8 1865.9,218.6 1866.5,213.0 1867.0,209.5 1867.5,206.2 1867.9,203.2 1868.3,200.0 1868.6,196.7 1868.9,193.5 1869.1,190.2 1869.4,187.0 1869.8,184.0 1870.3,181.1 1870.8,178.1 1871.2,175.0 1871.7,171.3 1872.2,167.5 1872.7,163.7 1873.2,160.0 1873.9,156.6 1874.7,153.4 1875.4,150.1 1876.2,147.0 1877.0,144.2 1877.7,141.4 1878.5,138.6 1879.2,136.0 1880.0,133.6 1880.7,131.2 1881.4,129.0 1882.2,127.0 1882.9,125.5 1883.6,124.1 1884.3,123.0 1885.0,122.5 1885.7,122.9 1886.4,123.9 1887.1,125.2 1887.7,126.5 1888.4,128.4 1889.0,130.5 1889.5,132.7 1890.1,135.0 1891.0,137.6 1891.9,140.2 1892.8,142.9 1893.5,145.5 1894.1,147.7 1894.6,149.8 1895.0,151.9 1895.4,154.0 1895.9,156.1 1896.2,158.1 1896.6,160.2 1896.9,162.5 1897.3,165.6 1897.6,168.8 1897.8,172.2 1898.0,175.5 1898.3,178.8 1898.5,182.0 1898.7,185.3 1898.9,188.5 1899.1,191.3 1899.2,193.9 1899.4,196.7 1899.5,200.0 1900.0,208.3 1900.6,218.6 1901.3,229.6 1901.9,240.0 1902.6,249.1 1903.3,258.1 1904.0,267.1 1904.7,276.5 1905.6,287.9 1906.5,300.0 1907.3,311.8 1908.0,322.0 1908.4,327.6 1908.8,332.5 1909.1,337.3 1909.5,342.7 1910.2,351.1 1910.8,360.3 1911.5,370.0 1912.2,380.0 1913.0,392.0 1913.7,404.4 1914.5,417.7 1915.4,432.4 1917.1,458.9 1919.2,489.6 1921.1,519.4 1922.7,542.7 1923.3,550.6 1923.7,556.9 1924.2,562.9 1924.7,570.0 1925.9,583.2 1927.3,598.2 1928.8,613.7 1930.2,628.2 1931.5,639.9 1932.8,651.3 1934.1,662.2 1935.2,672.4 1936.1,679.5 1936.9,685.9 1937.7,692.5 1938.5,700.0 1940.1,714.3 1941.8,730.8 1943.6,747.6 1945.3,762.8 1946.6,772.8 1947.8,782.3 1949.0,791.1 1950.2,799.5 1951.3,805.9 1952.4,811.8 1953.5,817.6 1954.4,823.6 1955.4,830.5 1956.2,837.6 1957.1,844.8 1957.9,852.0 1958.8,859.1 1959.6,866.2 1960.5,873.4 1961.5,880.5 1962.6,887.9 1963.7,895.5 1964.8,902.7 1966.0,909.0 1966.8,912.4 1967.7,915.5 1968.5,918.2 1969.4,920.8 1970.1,922.7 1970.8,924.5 1971.6,926.0 1972.4,927.4 1973.1,928.3 1973.9,929.1 1974.6,929.7 1975.4,929.9 1976.2,929.7 1976.9,929.1 1977.7,928.3 1978.4,927.4 1979.2,926.0 1980.0,924.5 1980.7,922.7 1981.4,920.8 1982.3,918.2 1983.1,915.5 1983.9,912.4 1984.7,909.0 1986.0,902.7 1987.1,895.5 1988.2,887.9 1989.3,880.5 1990.3,873.4 1991.2,866.2 1992.0,859.1 1992.9,852.0 1993.8,844.9 1994.6,837.7 1995.4,830.6 1996.3,823.6 1997.4,816.9 1998.4,810.4 1999.5,803.8 2000.4,797.0 2001.2,789.4 2001.8,781.6 2002.4,773.7 2002.9,765.7 2003.4,757.0 2003.9,748.2 2004.4,739.2 2004.9,730.3 2005.5,721.6 2006.1,713.0 2006.7,704.1 2007.4,694.3 2008.5,679.2 2009.6,662.5 2010.8,645.2 2011.9,628.2 2012.9,610.7 2014.0,592.7 2014.9,575.8 2015.7,562.0 2016.1,556.6 2016.4,552.2 2016.7,547.9 2017.0,542.5 2017.8,528.7 2018.6,511.9 2019.6,493.8 2020.5,476.4 2021.4,459.9 2022.4,443.3 2023.4,426.7 2024.3,410.2 2025.2,393.4 2026.1,376.3 2026.9,359.7 2027.8,344.1 2028.5,332.2 2029.3,320.9 2030.0,310.1 2030.7,300.0 2031.2,292.6 2031.8,285.8 2032.3,279.0 2032.9,272.0 2033.6,263.6 2034.3,254.9 2035.1,246.2 2035.8,238.0 2036.4,231.3 2037.0,224.8 2037.6,218.6 2038.2,213.0 2038.7,209.5 2039.1,206.2 2039.6,203.2 2040.0,200.0 2040.3,196.7 2040.5,193.5 2040.8,190.2 2041.1,187.0 2041.5,184.0 2042.0,181.1 2042.4,178.1 2042.9,175.0 2043.4,171.3 2043.8,167.5 2044.3,163.7 2044.9,160.0 2045.6,156.6 2046.3,153.4 2047.1,150.1 2047.9,147.0 2048.6,144.2 2049.4,141.4 2050.1,138.6 2050.9,136.0 2051.6,133.6 2052.3,131.2 2053.1,129.0 2053.9,127.0 2054.6,125.5 2055.3,124.1 2056.0,123.0 2056.7,122.5 2057.4,122.9 2058.1,123.9 2058.8,125.2 2059.4,126.5 2060.1,128.4 2060.7,130.5 2061.2,132.7 2061.8,135.0 2062.6,137.6 2063.5,140.2 2064.4,142.9 2065.2,145.5 2065.8,147.7 2066.2,149.8 2066.7,151.9 2067.1,154.0 2067.5,156.1 2067.9,158.1 2068.3,160.2 2068.6,162.5 2068.9,165.6 2069.2,168.8 2069.5,172.2 2069.7,175.5 2069.9,178.8 2070.2,182.0 2070.4,185.3 2070.6,188.5 2070.8,191.3 2070.9,193.9 2071.0,196.7 2071.2,200.0 2071.7,208.3 2072.3,218.6 2072.9,229.6 2073.6,240.0 2074.3,249.1 2075.0,258.1 2075.7,267.1 2076.4,276.5 2077.2,287.9 2078.1,300.0 2079.0,311.8 2079.7,322.0 2080.1,327.6 2080.5,332.5 2080.8,337.3 2081.2,342.7 2081.8,351.1 2082.5,360.3 2083.2,370.0 2083.9,380.0 2084.7,392.0 2085.4,404.4 2086.2,417.7 2087.1,432.4 2088.8,458.9 2090.8,489.6 2092.8,519.4 2094.4,542.7 2094.9,550.6 2095.4,556.9 2095.8,562.9 2096.4,570.0 2097.6,583.2 2098.9,598.2 2100.4,613.7 2101.9,628.2 2103.2,639.9 2104.4,651.3 2105.7,662.2 2106.9,672.4 2107.7,679.5 2108.5,685.9 2109.3,692.5 2110.2,700.0 2111.8,714.2 2113.5,730.7 2115.3,747.4 2117.0,762.4 2118.2,772.4 2119.4,781.8 2120.7,790.6 2121.9,798.9 2123.0,805.2 2124.0,811.1 2125.1,816.8 2126.1,822.8 2127.0,829.7 2127.9,836.8 2128.7,843.9 2129.6,851.1 2130.4,858.1 2131.3,865.2 2132.2,872.3 2133.2,879.4 2134.2,886.8 2135.3,894.3 2136.5,901.5 2137.7,907.7 2138.5,911.1 2139.3,914.1 2140.2,916.9 2141.1,919.5 2141.8,921.3 2142.5,923.1 2143.2,924.7 2144.1,926.0 2144.8,926.9 2145.5,927.7 2146.3,928.3 2147.1,928.5 2147.8,928.3 2148.6,927.7 2149.4,926.9 2150.1,926.0 2150.9,924.7 2151.7,923.1 2152.4,921.3 2153.1,919.5 2153.9,916.9 2154.8,914.1 2155.6,911.1 2156.4,907.7 2157.6,901.5 2158.8,894.3 2159.9,886.8 2161.0,879.4 2161.9,872.3 2162.8,865.2 2163.7,858.1 2164.6,851.1 2165.4,844.0 2166.2,836.9 2167.1,829.8 2168.0,822.8 2169.0,816.2 2170.1,809.7 2171.1,803.2 2172.1,796.4 2172.8,788.9 2173.5,781.1 2174.0,773.3 2174.6,765.3 2175.1,756.7 2175.6,747.9 2176.0,739.0 2176.6,730.1 2177.1,721.5 2177.7,712.9 2178.4,704.0 2179.1,694.3 2180.1,679.2 2181.3,662.5 2182.5,645.2 2183.6,628.2 2184.6,610.7 2185.6,592.7 2186.6,575.8 2187.4,562.0 2187.7,556.6 2188.0,552.2 2188.3,547.9 2188.7,542.5 2189.4,528.7 2190.3,511.9 2191.2,493.8 2192.2,476.4 2193.1,459.9 2194.1,443.3 2195.0,426.7 2196.0,410.2 2196.9,393.4 2197.7,376.3 2198.6,359.7 2199.5,344.1 2200.2,332.2 2200.9,320.9 2201.6,310.1 2202.4,300.0 2202.9,292.6 2203.4,285.8 2204.0,279.0 2204.6,272.0 2205.3,263.6 2206.0,254.9 2206.7,246.2 2207.5,238.0 2208.1,231.3 2208.7,224.8 2209.3,218.6 2209.9,213.0 2210.3,209.5 2210.8,206.2 2211.3,203.2 2211.7,200.0 2212.0,196.7 2212.2,193.5 2212.4,190.2 2212.8,187.0 2213.2,184.0 2213.6,181.1 2214.1,178.1 2214.6,175.0 2215.0,171.3 2215.5,167.5 2216.0,163.7 2216.6,160.0 2217.2,156.6 2218.0,153.4 2218.8,150.1 2219.6,147.0 2220.3,144.2 2221.0,141.4 2221.8,138.6 2222.6,136.0 2223.3,133.6 2224.0,131.2 2224.7,129.0 2225.6,127.0 2226.2,125.5 2226.9,124.1 2227.6,123.0 2228.4,122.5 2229.1,122.9 2229.8,123.9 2230.4,125.2 2231.1,126.5 2231.7,128.4 2232.3,130.5 2232.9,132.7 2233.5,135.0 2234.3,137.6 2235.2,140.2 2236.1,142.9 2236.9,145.5 2237.4,147.7 2237.9,149.8 2238.3,151.9 2238.8,154.0 2239.2,156.1 2239.6,158.1 2239.9,160.2 2240.3,162.5 2240.6,165.6 2240.9,168.8 2241.1,172.2 2241.4,175.5 2241.6,178.8 2241.8,182.0 2242.1,185.3 2242.3,188.5 2242.4,191.3 2242.5,193.9 2242.7,196.7 2242.9,200.0 2243.3,208.3 2243.9,218.6 2244.6,229.6 2245.3,240.0 2245.9,249.1 2246.6,258.1 2247.3,267.1 2248.1,276.5 2248.9,287.9 2249.8,300.0 2250.6,311.8 2251.4,322.0 2251.8,327.6 2252.1,332.5 2252.5,337.3 2252.9,342.7 2253.5,351.1 2254.2,360.3 2254.9,370.0 2255.6,380.0 2256.3,392.0 2257.1,404.4 2257.9,417.7 2258.8,432.4 2260.5,458.9 2262.5,489.6 2264.5,519.4 2266.1,542.7 2266.6,550.6 2267.0,556.9 2267.5,562.9 2268.1,570.0 2269.2,583.2 2270.6,598.2 2272.1,613.7 2273.6,628.2 2274.8,639.9 2276.1,651.3 2277.4,662.2 2278.6,672.4 2279.4,679.5 2280.2,685.9 2281.0,692.5 2281.9,700.0 2283.4,714.2 2285.2,730.5 2286.9,747.2 2288.7,762.1 2289.9,772.1 2291.1,781.4 2292.3,790.2 2293.6,798.5 2294.6,804.8 2295.7,810.6 2296.8,816.3 2297.8,822.3 2298.7,829.2 2299.6,836.2 2300.4,843.3 2301.2,850.4 2302.1,857.5 2303.1,864.6 2304.0,871.7 2304.8,878.6 2305.5,885.1 2306.2,891.6 2306.8,897.7 2307.6,903.0 2308.1,905.8 2308.7,908.2 2309.3,910.5 2310.0,912.6 2310.5,914.1 2311.1,915.6 2311.7,916.9 2312.4,917.9 2313.1,918.7 2313.8,919.3 2314.5,919.8 2315.2,920.0 2316.0,919.8 2316.8,919.4 2317.6,918.7 2318.0,918.3" fill="none" stroke="#00ff00" stroke-width="13" stroke-linejoin="round" stroke-linecap="butt" shape-rendering="crispEdges"/></g>
<g font-family="Liberation Serif, serif" font-weight="bold" font-size="78" fill="#262626"><text transform="translate(224.5 1044.8) scale(1 1.04)" text-anchor="middle">0.9</text><text transform="translate(572.5 1044.8) scale(1 1.04)" text-anchor="middle">0.905</text><text transform="translate(920.5 1044.8) scale(1 1.04)" text-anchor="middle">0.91</text><text transform="translate(1268.5 1044.8) scale(1 1.04)" text-anchor="middle">0.915</text><text transform="translate(1616.5 1044.8) scale(1 1.04)" text-anchor="middle">0.92</text><text transform="translate(1964.5 1044.8) scale(1 1.04)" text-anchor="middle">0.925</text><text transform="translate(2312.5 1044.8) scale(1 1.04)" text-anchor="middle">0.93</text><text x="193" y="914.9" text-anchor="end">0</text><text x="193" y="639.2" text-anchor="end">5</text><text x="195" y="363.6" text-anchor="end">10</text><text x="195" y="88.0" text-anchor="end">15</text></g>
<g font-family="Liberation Serif, serif" font-weight="bold" font-size="88" fill="#262626"><text x="1269" y="1153" text-anchor="middle">Time in second</text><text transform="translate(78 509.5) rotate(-90)" text-anchor="middle">Torque in newton metre</text></g>
<rect x="1055.5" y="85.5" width="1235" height="288" fill="#fff" stroke="#262626" stroke-width="5"/>
<path d="M1079 140.5H1256" stroke="#ff0000" stroke-width="13"/>
<path d="M1079 228.5H1256" stroke="#0000ff" stroke-width="13"/>
<path d="M1079 318H1256" stroke="#00ff00" stroke-width="13"/>
<g font-family="Liberation Serif, serif" font-weight="bold" font-size="70" fill="#000">
<text x="1272.2" y="164" textLength="871.5" lengthAdjust="spacing">CamWOA with PI controller</text>
<text x="1272.2" y="252.7" textLength="988.5" lengthAdjust="spacing">CamWOA with FO PI controller</text>
<text x="1274" y="340.8" textLength="726" lengthAdjust="spacing">WOA with PI controller</text>
</g>
</svg>
</body></html>
